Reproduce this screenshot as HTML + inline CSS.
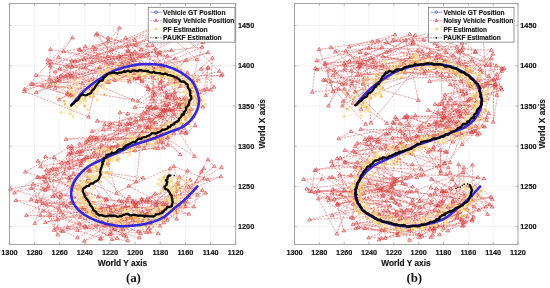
<!DOCTYPE html>
<html><head><meta charset="utf-8"><title>Figure</title><style>
*{margin:0;padding:0}
html,body{width:550px;height:288px;background:#fff;overflow:hidden}
svg{position:absolute;left:0;top:0;filter:blur(0.3px)}
.grid{stroke:#ebebeb;stroke-width:0.6}
.box{fill:none;stroke:#929292;stroke-width:0.85}
.tk{fill:none;stroke:#8c8c8c;stroke-width:0.6}
.tl{font:bold 7.3px 'Liberation Sans',Arial,sans-serif;fill:#111;stroke:#111;stroke-width:0.15}
.al{font:bold 8.3px 'Liberation Sans',Arial,sans-serif;fill:#111;stroke:#111;stroke-width:0.15}
.lt{font:bold 6.7px 'Liberation Sans',Arial,sans-serif;fill:#111;stroke:#111;stroke-width:0.12}
.lg{fill:#fff;stroke:#6a6a6a;stroke-width:0.7}
.rl{fill:none;stroke:#d84848;stroke-width:0.5;stroke-dasharray:2.2 1}
.rt{fill:#f0a0a0;fill-opacity:0.45;stroke:#d43c3c;stroke-width:0.6}
.yl{fill:none;stroke:#f3c76a;stroke-width:0.5;stroke-dasharray:1.2 1}
.yd{fill:none;stroke:#f9df98;stroke-width:3;stroke-linecap:round;stroke-opacity:0.9}
.yd2{fill:none;stroke:#f3b45c;stroke-width:2.6;stroke-linecap:round;stroke-opacity:0.9}
.gt{fill:none;stroke:#3428dc;stroke-width:2.6;stroke-linejoin:round;stroke-linecap:round}
.bk{fill:none;stroke:#080808;stroke-width:2.3;stroke-linejoin:round;stroke-linecap:round}
.bkr{stroke-width:2.35}
.bkd{fill:none;stroke:#111;stroke-width:1.6;stroke-linecap:round}
.cap{font:bold 13px 'Liberation Serif','Times New Roman',serif;fill:#111;letter-spacing:-0.15px}
</style></head>
<body>
<svg width="550" height="288" viewBox="0 0 550 288">
<line x1="34.5" y1="3.6" x2="34.5" y2="244.4" class="grid"/>
<line x1="59.7" y1="3.6" x2="59.7" y2="244.4" class="grid"/>
<line x1="84.8" y1="3.6" x2="84.8" y2="244.4" class="grid"/>
<line x1="110" y1="3.6" x2="110" y2="244.4" class="grid"/>
<line x1="135.1" y1="3.6" x2="135.1" y2="244.4" class="grid"/>
<line x1="160.3" y1="3.6" x2="160.3" y2="244.4" class="grid"/>
<line x1="185.4" y1="3.6" x2="185.4" y2="244.4" class="grid"/>
<line x1="210.6" y1="3.6" x2="210.6" y2="244.4" class="grid"/>
<line x1="9.4" y1="226.7" x2="235.7" y2="226.7" class="grid"/>
<line x1="9.4" y1="186.4" x2="235.7" y2="186.4" class="grid"/>
<line x1="9.4" y1="146.2" x2="235.7" y2="146.2" class="grid"/>
<line x1="9.4" y1="105.9" x2="235.7" y2="105.9" class="grid"/>
<line x1="9.4" y1="65.7" x2="235.7" y2="65.7" class="grid"/>
<line x1="9.4" y1="25.4" x2="235.7" y2="25.4" class="grid"/>
<polyline points="70,95.7 32.9,84 99.6,67.3 88.5,116.8 24.4,91.3 65.5,76 59,80 48,62.8 139.2,78.5 31.2,84.1 71,94.8 36,75.1 93.6,80.8 55.1,87.9 57.1,79.7 85.3,46.6 142.5,80 58.5,57.2 72.5,37.6 24.6,89.1 111.5,69.8 70.4,87.5 42.3,85.6 92.9,89.4 139.5,63.6 47.5,59.6 85.5,67.5 71.8,66.9 91.8,62.2 95.3,49.2 51.9,81.4 82.7,83.8 74.1,95 67.5,93.1 121.8,71.2 97.2,33.4 131.8,54.1 55.3,71.7 108.4,40.8 50.2,65.9 132.9,99.8 81.6,91.7 107.8,56.2 36.3,92.2 143.4,55.9 59.1,99.5 68,94.4 67.9,74.6 53.1,83.1 140.3,56 71.7,76.4 129.5,81.7 148,67.9 70.3,75.7 71.8,60.7 171.5,50.4 122,64 127.6,50.5 90.6,88.3 154.9,38.4 75.1,61.1 120.3,59 63.6,51.4 153.1,33.4 112.2,62.3 50.4,49.3 49.1,86.3 154.8,26.6 59.5,68.5 108,82.4 80.1,94.5 134.9,51.6 49.3,78.9 51.2,62.6 134.7,78.7 95.9,34.8 167.4,55.9 84.1,58.9 148.1,53.9 67.1,66.4 134.8,40.1 161.1,69.6 111.4,49.5 168.5,34.8 196.8,59.4 60.9,75.8 109.4,81.8 175.2,58.5 140.9,49.7 117.9,74.1 79,49.6 141.9,81.2 128.7,51.1 180.6,71.2 102.7,74.6 134.2,60.4 79.9,49.9 136,45 108,37.7 106.7,71.4 119.5,27.8 97.2,55.6 164,33.4 93.3,47 193.1,80.7 105.8,62.9 177,78.8 152.7,95.5 119.3,55.7 202.1,47 153,68.4 162.6,66.1 175.7,81.3 159.8,52.2 158.7,53.7 150.6,72.4 128.1,63.1 178.2,38.4 127.6,46.4 130.7,58.6 133.4,72.9 137.6,76.4 152.9,91.8 155.5,48.8 166.6,95.9 125.7,37.9 189.7,92.1 190.8,86.9 203.2,42.3 114.8,80.2 208.1,52.4 136.9,78.3 170.6,79.3 154.5,101.6 147.6,45.8 198.6,80.8 154.9,94.8 152.6,75.4 221.3,75.5 222.4,74.5 148,89.3 219.4,71.3 187.3,39.3 152.5,45.3 180,103.4 202.8,106.7 187.4,72.4 160.6,88.7 162.4,111.6 137.8,100.9 176.6,68.3 186.4,60.1 173,72.9 129,78.9 179.2,104.3 214,86.9 201.1,69 208.2,67.4 190.3,86.7 138.3,76.2 166.4,92.8 168.1,97.5 187.2,106.6 210.7,89.7 212.4,57.9 156.2,107 183.5,124.9 147.5,86.3 151,107.6 152.1,98.6 189.3,107.6 164.4,110.2 172.2,110.6 179.7,99.4 160,82.7 147.1,107 206.8,88.9 207.7,67.9 204.1,89.9 180.5,86.2 164.5,111.4 191.2,109.2 174.5,114.6 175,77.2 134.9,107.3 150.1,107.8 161.3,81.1 164.8,105 141,116.1 149.2,118.4 183.3,104.8 195.3,125.4 185.9,133.4 147.8,109.9 198.8,92.5 174.5,92.3 181.9,106.6 184.4,98.4 185.6,106.2 186.9,99.1 166.5,105.6 172.2,95.1 155.4,138.2 189.4,111.2 153.3,108.7 163.6,109.9 169.7,109.3 127,124.2 130.3,118.8 199.8,99.3 166.6,97.5 158.1,148.3 157.6,130 199.5,92 147.5,127.6 144.1,148 178.5,107.1 146.8,131.3 170.1,94.4 193.4,116.3 140.7,119.7 163.1,142.4 173.9,133 181.9,114.3 135.2,142.6 129.5,144.9 167.7,144.9 174.7,98.3 188,123.2 139.1,126.8 126,146.9 155.7,122.7 145.7,127.3 169.1,104 160.9,141.7 182.8,126.1 183.8,128 147.7,128.6 177.2,104.1 161.5,115.3 181.8,132.5 156.3,141.9 104.4,124.6 169.7,110 154.6,107.5 186.7,112.2 119.7,124.3 186.6,132 131.8,123.7 109.4,127.2 127.9,129.6 92.1,131.2 146.8,111.5 143.5,112.4 173.5,123.5 194.5,156.2 151.8,129.4 149.3,120.3 180.3,154.4 154.3,130.7 163.4,147.7 126.4,145.2 161.7,134.1 147.5,143 128.3,143.2 153.1,121.4 87.6,140.8 157.5,136.6 143.6,118.6 136.4,122 94,152.7 136.1,119.3 81.5,160.9 159.6,115.7 119.9,112.3 117.3,146 159.9,115.2 77.3,152.3 125.3,144.9 127.7,113.7 98,158.9 101.3,144.5 135.1,150.5 104.2,137.9 129.8,123.4 97.2,120.9 166.4,135.4 85.7,142.2 89.1,139.1 90.6,136.6 158,138.8 110.4,123.7 73.5,174 71.4,148.6 142.6,131.8 66,139.2 168.2,137.6 70.7,152.1 96.6,137.7 56.5,169.1 139.5,135.7 81.6,163.4 56.5,174.5 111.2,147.5 79.5,143.9 103.6,129.1 142.1,133.3 136.2,181.6 90,169.2 45.5,156.7 40.5,166.5 154.9,147.9 83.7,159.5 93.9,137.6 61.8,162.8 138.6,146.6 68,162.8 96.9,139.1 141.4,140.2 86.8,157.1 64.3,173.8 68.2,146.9 112.3,147.7 69.2,180.5 69,154 48,173.5 124.7,143.4 44.4,177.2 73.2,184.4 115,147.2 82.2,150.9 71.7,153.1 52.9,196.4 54.2,157.2 93.1,203 70.3,202.7 107.9,163.1 116.5,193.1 143,177.8 69.6,167.8 52.6,168.5 70.5,177.2 80.6,154.2 42.8,176.5 107.1,199.4 25.3,171.8 71.7,146.1 80.7,165.3 59.1,208.8 43,203.3 126.9,200.2 79.9,151.3 45.7,180.7 43,188.9 47.5,188.9 50.8,169.9 37.9,160.9 60.3,196.9 39.1,177.5 94.2,215.1 55.7,195.8 85,218.1 36.5,201.3 46.6,169.8 102.5,213.7 85.4,201.7 33,183.9 40.4,215.1 58,219.6 57.3,227.7 85,225.9 15.9,200.2 64.2,204.8 10.4,188.9 68.7,178 37.3,177.1 14.5,192.8 88.7,170.6 26.3,215.3 80.2,217.5 84.3,207.4 120.4,210.3 89.7,171 71.9,190 87.7,185 34.8,223.3 45.2,190 31.3,188.2 63.3,214.8 108.2,207 88.7,178.3 42.8,210.9 112.5,214 31.2,199.2 48.3,186.1 79.6,223.7 104.2,220.2 77.5,230.2 100.5,238.2 108.8,220.2 62.8,231.2 77.4,237.6 136,204.9 45.4,222.3 133,201 86.2,181.7 40,199.8 57.7,234.6 46.5,204.8 88.9,211.3 127.7,240.5 112.1,239.2 66.6,205.9 142.5,220.2 101.1,207.8 110,207.4 67.8,227.2 134.2,204.9 98,196.6 112,223.9 54,230 60.9,194.6 73.8,196.5 135,220.7 136,206.4 126.4,210.7 142.2,211.9 117.1,238 50,215 61.1,212.5 86.5,194 91.7,214.1 126.2,236.5 71.3,203.1 169.9,209.3 96,224.7 139.3,237.7 167.2,206.7 125.5,219.3 88.1,205.7 150.8,223.1 99.2,214.3 82.9,207.7 133.4,224.7 60.8,230.5 89.4,201.4 166.2,217.7 86.4,227.6 140.5,233.5 104.1,214.5 138.3,203 176.9,203.5 84.3,241 155.2,193.5 100.7,239 158.9,205 185.4,206.3 132.9,202.2 88.6,211.4 100.1,219.2 105.7,198.7 111.2,233.8 123.7,234.9 161,211.7 107.8,224.5 146.7,214.1 143.9,218.1 141.8,199.2 188.9,213.9 113.6,205.1 145.7,224.4 108.2,209.2 166.4,206 117.6,223 109.7,234.3 122.6,217.5 114,208.9 144.9,224.6 147.4,218.8 163,205.4 103.9,225.1 114.9,228.5 175.5,191.1 173.4,194.8 149.8,231.9 147.2,199.4 176.6,184 123,228.9 158.3,233.4 129,196.8 125.7,206.1 144.8,223.1 138.4,231.4 149,228.1 110.9,210.4 149.8,200.3 121.5,229 121.6,201.3 187.2,201.9 167.3,220.1 156.8,203.9 163.8,222.5 205.7,192.8 119,200.7 151.2,221.7 146.5,232.2 180.7,206 179.3,176.8 197.5,194.9 193.9,206.6 147.1,213.7 190.2,179.9 160,225.8 147.7,208.9 177.5,183 175.7,212.6 203.8,168.4 184.2,204.3 173.8,166.2 204.2,178.3 167,202.3 135.8,202.1 189.3,197.3 202.4,190.1 176.8,188.2 176.7,218.8 141.6,199.3 207.8,179.3 220.8,176.4 155.7,204.7 170.1,168.5 128.6,186 163.6,204.4 187.5,170.7 184.2,200.7 201.3,171.6 207.9,159.5 214.3,166.3 188.7,186.9 221.5,167.2" class="rl"/>
<path d="M70 93.8l1.9 3.2h-3.8zM32.9 82.1l1.9 3.2h-3.8zM99.6 65.4l1.9 3.2h-3.8zM88.5 114.9l1.9 3.2h-3.8zM24.4 89.4l1.9 3.2h-3.8zM65.5 74.1l1.9 3.2h-3.8zM59 78.1l1.9 3.2h-3.8zM48 60.9l1.9 3.2h-3.8zM139.2 76.6l1.9 3.2h-3.8zM31.2 82.2l1.9 3.2h-3.8zM71 92.9l1.9 3.2h-3.8zM36 73.2l1.9 3.2h-3.8zM93.6 78.9l1.9 3.2h-3.8zM55.1 86l1.9 3.2h-3.8zM57.1 77.8l1.9 3.2h-3.8zM85.3 44.7l1.9 3.2h-3.8zM142.5 78.1l1.9 3.2h-3.8zM58.5 55.3l1.9 3.2h-3.8zM72.5 35.7l1.9 3.2h-3.8zM24.6 87.2l1.9 3.2h-3.8zM111.5 67.9l1.9 3.2h-3.8zM70.4 85.6l1.9 3.2h-3.8zM42.3 83.7l1.9 3.2h-3.8zM92.9 87.5l1.9 3.2h-3.8zM139.5 61.7l1.9 3.2h-3.8zM47.5 57.7l1.9 3.2h-3.8zM85.5 65.6l1.9 3.2h-3.8zM71.8 65l1.9 3.2h-3.8zM91.8 60.3l1.9 3.2h-3.8zM95.3 47.3l1.9 3.2h-3.8zM51.9 79.5l1.9 3.2h-3.8zM82.7 81.9l1.9 3.2h-3.8zM74.1 93.1l1.9 3.2h-3.8zM67.5 91.2l1.9 3.2h-3.8zM121.8 69.3l1.9 3.2h-3.8zM97.2 31.5l1.9 3.2h-3.8zM131.8 52.2l1.9 3.2h-3.8zM55.3 69.8l1.9 3.2h-3.8zM108.4 38.9l1.9 3.2h-3.8zM50.2 64l1.9 3.2h-3.8zM132.9 97.9l1.9 3.2h-3.8zM81.6 89.8l1.9 3.2h-3.8zM107.8 54.3l1.9 3.2h-3.8zM36.3 90.3l1.9 3.2h-3.8zM143.4 54l1.9 3.2h-3.8zM59.1 97.6l1.9 3.2h-3.8zM68 92.5l1.9 3.2h-3.8zM67.9 72.7l1.9 3.2h-3.8zM53.1 81.2l1.9 3.2h-3.8zM140.3 54.1l1.9 3.2h-3.8zM71.7 74.5l1.9 3.2h-3.8zM129.5 79.8l1.9 3.2h-3.8zM148 66l1.9 3.2h-3.8zM70.3 73.8l1.9 3.2h-3.8zM71.8 58.8l1.9 3.2h-3.8zM171.5 48.5l1.9 3.2h-3.8zM122 62.1l1.9 3.2h-3.8zM127.6 48.6l1.9 3.2h-3.8zM90.6 86.4l1.9 3.2h-3.8zM154.9 36.5l1.9 3.2h-3.8zM75.1 59.2l1.9 3.2h-3.8zM120.3 57.1l1.9 3.2h-3.8zM63.6 49.5l1.9 3.2h-3.8zM153.1 31.5l1.9 3.2h-3.8zM112.2 60.4l1.9 3.2h-3.8zM50.4 47.4l1.9 3.2h-3.8zM49.1 84.4l1.9 3.2h-3.8zM154.8 24.7l1.9 3.2h-3.8zM59.5 66.6l1.9 3.2h-3.8zM108 80.5l1.9 3.2h-3.8zM80.1 92.6l1.9 3.2h-3.8zM134.9 49.7l1.9 3.2h-3.8zM49.3 77l1.9 3.2h-3.8zM51.2 60.7l1.9 3.2h-3.8zM134.7 76.8l1.9 3.2h-3.8zM95.9 32.9l1.9 3.2h-3.8zM167.4 54l1.9 3.2h-3.8zM84.1 57l1.9 3.2h-3.8zM148.1 52l1.9 3.2h-3.8zM67.1 64.5l1.9 3.2h-3.8zM134.8 38.2l1.9 3.2h-3.8zM161.1 67.7l1.9 3.2h-3.8zM111.4 47.6l1.9 3.2h-3.8zM168.5 32.9l1.9 3.2h-3.8zM196.8 57.5l1.9 3.2h-3.8zM60.9 73.9l1.9 3.2h-3.8zM109.4 79.9l1.9 3.2h-3.8zM175.2 56.6l1.9 3.2h-3.8zM140.9 47.8l1.9 3.2h-3.8zM117.9 72.2l1.9 3.2h-3.8zM79 47.7l1.9 3.2h-3.8zM141.9 79.3l1.9 3.2h-3.8zM128.7 49.2l1.9 3.2h-3.8zM180.6 69.3l1.9 3.2h-3.8zM102.7 72.7l1.9 3.2h-3.8zM134.2 58.5l1.9 3.2h-3.8zM79.9 48l1.9 3.2h-3.8zM136 43.1l1.9 3.2h-3.8zM108 35.8l1.9 3.2h-3.8zM106.7 69.5l1.9 3.2h-3.8zM119.5 25.9l1.9 3.2h-3.8zM97.2 53.7l1.9 3.2h-3.8zM164 31.5l1.9 3.2h-3.8zM93.3 45.1l1.9 3.2h-3.8zM193.1 78.8l1.9 3.2h-3.8zM105.8 61l1.9 3.2h-3.8zM177 76.9l1.9 3.2h-3.8zM152.7 93.6l1.9 3.2h-3.8zM119.3 53.8l1.9 3.2h-3.8zM202.1 45.1l1.9 3.2h-3.8zM153 66.5l1.9 3.2h-3.8zM162.6 64.2l1.9 3.2h-3.8zM175.7 79.4l1.9 3.2h-3.8zM159.8 50.3l1.9 3.2h-3.8zM158.7 51.8l1.9 3.2h-3.8zM150.6 70.5l1.9 3.2h-3.8zM128.1 61.2l1.9 3.2h-3.8zM178.2 36.5l1.9 3.2h-3.8zM127.6 44.5l1.9 3.2h-3.8zM130.7 56.7l1.9 3.2h-3.8zM133.4 71l1.9 3.2h-3.8zM137.6 74.5l1.9 3.2h-3.8zM152.9 89.9l1.9 3.2h-3.8zM155.5 46.9l1.9 3.2h-3.8zM166.6 94l1.9 3.2h-3.8zM125.7 36l1.9 3.2h-3.8zM189.7 90.2l1.9 3.2h-3.8zM190.8 85l1.9 3.2h-3.8zM203.2 40.4l1.9 3.2h-3.8zM114.8 78.3l1.9 3.2h-3.8zM208.1 50.5l1.9 3.2h-3.8zM136.9 76.4l1.9 3.2h-3.8zM170.6 77.4l1.9 3.2h-3.8zM154.5 99.7l1.9 3.2h-3.8zM147.6 43.9l1.9 3.2h-3.8zM198.6 78.9l1.9 3.2h-3.8zM154.9 92.9l1.9 3.2h-3.8zM152.6 73.5l1.9 3.2h-3.8zM221.3 73.6l1.9 3.2h-3.8zM222.4 72.6l1.9 3.2h-3.8zM148 87.4l1.9 3.2h-3.8zM219.4 69.4l1.9 3.2h-3.8zM187.3 37.4l1.9 3.2h-3.8zM152.5 43.4l1.9 3.2h-3.8zM180 101.5l1.9 3.2h-3.8zM202.8 104.8l1.9 3.2h-3.8zM187.4 70.5l1.9 3.2h-3.8zM160.6 86.8l1.9 3.2h-3.8zM162.4 109.7l1.9 3.2h-3.8zM137.8 99l1.9 3.2h-3.8zM176.6 66.4l1.9 3.2h-3.8zM186.4 58.2l1.9 3.2h-3.8zM173 71l1.9 3.2h-3.8zM129 77l1.9 3.2h-3.8zM179.2 102.4l1.9 3.2h-3.8zM214 85l1.9 3.2h-3.8zM201.1 67.1l1.9 3.2h-3.8zM208.2 65.5l1.9 3.2h-3.8zM190.3 84.8l1.9 3.2h-3.8zM138.3 74.3l1.9 3.2h-3.8zM166.4 90.9l1.9 3.2h-3.8zM168.1 95.6l1.9 3.2h-3.8zM187.2 104.7l1.9 3.2h-3.8zM210.7 87.8l1.9 3.2h-3.8zM212.4 56l1.9 3.2h-3.8zM156.2 105.1l1.9 3.2h-3.8zM183.5 123l1.9 3.2h-3.8zM147.5 84.4l1.9 3.2h-3.8zM151 105.7l1.9 3.2h-3.8zM152.1 96.7l1.9 3.2h-3.8zM189.3 105.7l1.9 3.2h-3.8zM164.4 108.3l1.9 3.2h-3.8zM172.2 108.7l1.9 3.2h-3.8zM179.7 97.5l1.9 3.2h-3.8zM160 80.8l1.9 3.2h-3.8zM147.1 105.1l1.9 3.2h-3.8zM206.8 87l1.9 3.2h-3.8zM207.7 66l1.9 3.2h-3.8zM204.1 88l1.9 3.2h-3.8zM180.5 84.3l1.9 3.2h-3.8zM164.5 109.5l1.9 3.2h-3.8zM191.2 107.3l1.9 3.2h-3.8zM174.5 112.7l1.9 3.2h-3.8zM175 75.3l1.9 3.2h-3.8zM134.9 105.4l1.9 3.2h-3.8zM150.1 105.9l1.9 3.2h-3.8zM161.3 79.2l1.9 3.2h-3.8zM164.8 103.1l1.9 3.2h-3.8zM141 114.2l1.9 3.2h-3.8zM149.2 116.5l1.9 3.2h-3.8zM183.3 102.9l1.9 3.2h-3.8zM195.3 123.5l1.9 3.2h-3.8zM185.9 131.5l1.9 3.2h-3.8zM147.8 108l1.9 3.2h-3.8zM198.8 90.6l1.9 3.2h-3.8zM174.5 90.4l1.9 3.2h-3.8zM181.9 104.7l1.9 3.2h-3.8zM184.4 96.5l1.9 3.2h-3.8zM185.6 104.3l1.9 3.2h-3.8zM186.9 97.2l1.9 3.2h-3.8zM166.5 103.7l1.9 3.2h-3.8zM172.2 93.2l1.9 3.2h-3.8zM155.4 136.3l1.9 3.2h-3.8zM189.4 109.3l1.9 3.2h-3.8zM153.3 106.8l1.9 3.2h-3.8zM163.6 108l1.9 3.2h-3.8zM169.7 107.4l1.9 3.2h-3.8zM127 122.3l1.9 3.2h-3.8zM130.3 116.9l1.9 3.2h-3.8zM199.8 97.4l1.9 3.2h-3.8zM166.6 95.6l1.9 3.2h-3.8zM158.1 146.4l1.9 3.2h-3.8zM157.6 128.1l1.9 3.2h-3.8zM199.5 90.1l1.9 3.2h-3.8zM147.5 125.7l1.9 3.2h-3.8zM144.1 146.1l1.9 3.2h-3.8zM178.5 105.2l1.9 3.2h-3.8zM146.8 129.4l1.9 3.2h-3.8zM170.1 92.5l1.9 3.2h-3.8zM193.4 114.4l1.9 3.2h-3.8zM140.7 117.8l1.9 3.2h-3.8zM163.1 140.5l1.9 3.2h-3.8zM173.9 131.1l1.9 3.2h-3.8zM181.9 112.4l1.9 3.2h-3.8zM135.2 140.7l1.9 3.2h-3.8zM129.5 143l1.9 3.2h-3.8zM167.7 143l1.9 3.2h-3.8zM174.7 96.4l1.9 3.2h-3.8zM188 121.3l1.9 3.2h-3.8zM139.1 124.9l1.9 3.2h-3.8zM126 145l1.9 3.2h-3.8zM155.7 120.8l1.9 3.2h-3.8zM145.7 125.4l1.9 3.2h-3.8zM169.1 102.1l1.9 3.2h-3.8zM160.9 139.8l1.9 3.2h-3.8zM182.8 124.2l1.9 3.2h-3.8zM183.8 126.1l1.9 3.2h-3.8zM147.7 126.7l1.9 3.2h-3.8zM177.2 102.2l1.9 3.2h-3.8zM161.5 113.4l1.9 3.2h-3.8zM181.8 130.6l1.9 3.2h-3.8zM156.3 140l1.9 3.2h-3.8zM104.4 122.7l1.9 3.2h-3.8zM169.7 108.1l1.9 3.2h-3.8zM154.6 105.6l1.9 3.2h-3.8zM186.7 110.3l1.9 3.2h-3.8zM119.7 122.4l1.9 3.2h-3.8zM186.6 130.1l1.9 3.2h-3.8zM131.8 121.8l1.9 3.2h-3.8zM109.4 125.3l1.9 3.2h-3.8zM127.9 127.7l1.9 3.2h-3.8zM92.1 129.3l1.9 3.2h-3.8zM146.8 109.6l1.9 3.2h-3.8zM143.5 110.5l1.9 3.2h-3.8zM173.5 121.6l1.9 3.2h-3.8zM194.5 154.3l1.9 3.2h-3.8zM151.8 127.5l1.9 3.2h-3.8zM149.3 118.4l1.9 3.2h-3.8zM180.3 152.5l1.9 3.2h-3.8zM154.3 128.8l1.9 3.2h-3.8zM163.4 145.8l1.9 3.2h-3.8zM126.4 143.3l1.9 3.2h-3.8zM161.7 132.2l1.9 3.2h-3.8zM147.5 141.1l1.9 3.2h-3.8zM128.3 141.3l1.9 3.2h-3.8zM153.1 119.5l1.9 3.2h-3.8zM87.6 138.9l1.9 3.2h-3.8zM157.5 134.7l1.9 3.2h-3.8zM143.6 116.7l1.9 3.2h-3.8zM136.4 120.1l1.9 3.2h-3.8zM94 150.8l1.9 3.2h-3.8zM136.1 117.4l1.9 3.2h-3.8zM81.5 159l1.9 3.2h-3.8zM159.6 113.8l1.9 3.2h-3.8zM119.9 110.4l1.9 3.2h-3.8zM117.3 144.1l1.9 3.2h-3.8zM159.9 113.3l1.9 3.2h-3.8zM77.3 150.4l1.9 3.2h-3.8zM125.3 143l1.9 3.2h-3.8zM127.7 111.8l1.9 3.2h-3.8zM98 157l1.9 3.2h-3.8zM101.3 142.6l1.9 3.2h-3.8zM135.1 148.6l1.9 3.2h-3.8zM104.2 136l1.9 3.2h-3.8zM129.8 121.5l1.9 3.2h-3.8zM97.2 119l1.9 3.2h-3.8zM166.4 133.5l1.9 3.2h-3.8zM85.7 140.3l1.9 3.2h-3.8zM89.1 137.2l1.9 3.2h-3.8zM90.6 134.7l1.9 3.2h-3.8zM158 136.9l1.9 3.2h-3.8zM110.4 121.8l1.9 3.2h-3.8zM73.5 172.1l1.9 3.2h-3.8zM71.4 146.7l1.9 3.2h-3.8zM142.6 129.9l1.9 3.2h-3.8zM66 137.3l1.9 3.2h-3.8zM168.2 135.7l1.9 3.2h-3.8zM70.7 150.2l1.9 3.2h-3.8zM96.6 135.8l1.9 3.2h-3.8zM56.5 167.2l1.9 3.2h-3.8zM139.5 133.8l1.9 3.2h-3.8zM81.6 161.5l1.9 3.2h-3.8zM56.5 172.6l1.9 3.2h-3.8zM111.2 145.6l1.9 3.2h-3.8zM79.5 142l1.9 3.2h-3.8zM103.6 127.2l1.9 3.2h-3.8zM142.1 131.4l1.9 3.2h-3.8zM136.2 179.7l1.9 3.2h-3.8zM90 167.3l1.9 3.2h-3.8zM45.5 154.8l1.9 3.2h-3.8zM40.5 164.6l1.9 3.2h-3.8zM154.9 146l1.9 3.2h-3.8zM83.7 157.6l1.9 3.2h-3.8zM93.9 135.7l1.9 3.2h-3.8zM61.8 160.9l1.9 3.2h-3.8zM138.6 144.7l1.9 3.2h-3.8zM68 160.9l1.9 3.2h-3.8zM96.9 137.2l1.9 3.2h-3.8zM141.4 138.3l1.9 3.2h-3.8zM86.8 155.2l1.9 3.2h-3.8zM64.3 171.9l1.9 3.2h-3.8zM68.2 145l1.9 3.2h-3.8zM112.3 145.8l1.9 3.2h-3.8zM69.2 178.6l1.9 3.2h-3.8zM69 152.1l1.9 3.2h-3.8zM48 171.6l1.9 3.2h-3.8zM124.7 141.5l1.9 3.2h-3.8zM44.4 175.3l1.9 3.2h-3.8zM73.2 182.5l1.9 3.2h-3.8zM115 145.3l1.9 3.2h-3.8zM82.2 149l1.9 3.2h-3.8zM71.7 151.2l1.9 3.2h-3.8zM52.9 194.5l1.9 3.2h-3.8zM54.2 155.3l1.9 3.2h-3.8zM93.1 201.1l1.9 3.2h-3.8zM70.3 200.8l1.9 3.2h-3.8zM107.9 161.2l1.9 3.2h-3.8zM116.5 191.2l1.9 3.2h-3.8zM143 175.9l1.9 3.2h-3.8zM69.6 165.9l1.9 3.2h-3.8zM52.6 166.6l1.9 3.2h-3.8zM70.5 175.3l1.9 3.2h-3.8zM80.6 152.3l1.9 3.2h-3.8zM42.8 174.6l1.9 3.2h-3.8zM107.1 197.5l1.9 3.2h-3.8zM25.3 169.9l1.9 3.2h-3.8zM71.7 144.2l1.9 3.2h-3.8zM80.7 163.4l1.9 3.2h-3.8zM59.1 206.9l1.9 3.2h-3.8zM43 201.4l1.9 3.2h-3.8zM126.9 198.3l1.9 3.2h-3.8zM79.9 149.4l1.9 3.2h-3.8zM45.7 178.8l1.9 3.2h-3.8zM43 187l1.9 3.2h-3.8zM47.5 187l1.9 3.2h-3.8zM50.8 168l1.9 3.2h-3.8zM37.9 159l1.9 3.2h-3.8zM60.3 195l1.9 3.2h-3.8zM39.1 175.6l1.9 3.2h-3.8zM94.2 213.2l1.9 3.2h-3.8zM55.7 193.9l1.9 3.2h-3.8zM85 216.2l1.9 3.2h-3.8zM36.5 199.4l1.9 3.2h-3.8zM46.6 167.9l1.9 3.2h-3.8zM102.5 211.8l1.9 3.2h-3.8zM85.4 199.8l1.9 3.2h-3.8zM33 182l1.9 3.2h-3.8zM40.4 213.2l1.9 3.2h-3.8zM58 217.7l1.9 3.2h-3.8zM57.3 225.8l1.9 3.2h-3.8zM85 224l1.9 3.2h-3.8zM15.9 198.3l1.9 3.2h-3.8zM64.2 202.9l1.9 3.2h-3.8zM10.4 187l1.9 3.2h-3.8zM68.7 176.1l1.9 3.2h-3.8zM37.3 175.2l1.9 3.2h-3.8zM14.5 190.9l1.9 3.2h-3.8zM88.7 168.7l1.9 3.2h-3.8zM26.3 213.4l1.9 3.2h-3.8zM80.2 215.6l1.9 3.2h-3.8zM84.3 205.5l1.9 3.2h-3.8zM120.4 208.4l1.9 3.2h-3.8zM89.7 169.1l1.9 3.2h-3.8zM71.9 188.1l1.9 3.2h-3.8zM87.7 183.1l1.9 3.2h-3.8zM34.8 221.4l1.9 3.2h-3.8zM45.2 188.1l1.9 3.2h-3.8zM31.3 186.3l1.9 3.2h-3.8zM63.3 212.9l1.9 3.2h-3.8zM108.2 205.1l1.9 3.2h-3.8zM88.7 176.4l1.9 3.2h-3.8zM42.8 209l1.9 3.2h-3.8zM112.5 212.1l1.9 3.2h-3.8zM31.2 197.3l1.9 3.2h-3.8zM48.3 184.2l1.9 3.2h-3.8zM79.6 221.8l1.9 3.2h-3.8zM104.2 218.3l1.9 3.2h-3.8zM77.5 228.3l1.9 3.2h-3.8zM100.5 236.3l1.9 3.2h-3.8zM108.8 218.3l1.9 3.2h-3.8zM62.8 229.3l1.9 3.2h-3.8zM77.4 235.7l1.9 3.2h-3.8zM136 203l1.9 3.2h-3.8zM45.4 220.4l1.9 3.2h-3.8zM133 199.1l1.9 3.2h-3.8zM86.2 179.8l1.9 3.2h-3.8zM40 197.9l1.9 3.2h-3.8zM57.7 232.7l1.9 3.2h-3.8zM46.5 202.9l1.9 3.2h-3.8zM88.9 209.4l1.9 3.2h-3.8zM127.7 238.6l1.9 3.2h-3.8zM112.1 237.3l1.9 3.2h-3.8zM66.6 204l1.9 3.2h-3.8zM142.5 218.3l1.9 3.2h-3.8zM101.1 205.9l1.9 3.2h-3.8zM110 205.5l1.9 3.2h-3.8zM67.8 225.3l1.9 3.2h-3.8zM134.2 203l1.9 3.2h-3.8zM98 194.7l1.9 3.2h-3.8zM112 222l1.9 3.2h-3.8zM54 228.1l1.9 3.2h-3.8zM60.9 192.7l1.9 3.2h-3.8zM73.8 194.6l1.9 3.2h-3.8zM135 218.8l1.9 3.2h-3.8zM136 204.5l1.9 3.2h-3.8zM126.4 208.8l1.9 3.2h-3.8zM142.2 210l1.9 3.2h-3.8zM117.1 236.1l1.9 3.2h-3.8zM50 213.1l1.9 3.2h-3.8zM61.1 210.6l1.9 3.2h-3.8zM86.5 192.1l1.9 3.2h-3.8zM91.7 212.2l1.9 3.2h-3.8zM126.2 234.6l1.9 3.2h-3.8zM71.3 201.2l1.9 3.2h-3.8zM169.9 207.4l1.9 3.2h-3.8zM96 222.8l1.9 3.2h-3.8zM139.3 235.8l1.9 3.2h-3.8zM167.2 204.8l1.9 3.2h-3.8zM125.5 217.4l1.9 3.2h-3.8zM88.1 203.8l1.9 3.2h-3.8zM150.8 221.2l1.9 3.2h-3.8zM99.2 212.4l1.9 3.2h-3.8zM82.9 205.8l1.9 3.2h-3.8zM133.4 222.8l1.9 3.2h-3.8zM60.8 228.6l1.9 3.2h-3.8zM89.4 199.5l1.9 3.2h-3.8zM166.2 215.8l1.9 3.2h-3.8zM86.4 225.7l1.9 3.2h-3.8zM140.5 231.6l1.9 3.2h-3.8zM104.1 212.6l1.9 3.2h-3.8zM138.3 201.1l1.9 3.2h-3.8zM176.9 201.6l1.9 3.2h-3.8zM84.3 239.1l1.9 3.2h-3.8zM155.2 191.6l1.9 3.2h-3.8zM100.7 237.1l1.9 3.2h-3.8zM158.9 203.1l1.9 3.2h-3.8zM185.4 204.4l1.9 3.2h-3.8zM132.9 200.3l1.9 3.2h-3.8zM88.6 209.5l1.9 3.2h-3.8zM100.1 217.3l1.9 3.2h-3.8zM105.7 196.8l1.9 3.2h-3.8zM111.2 231.9l1.9 3.2h-3.8zM123.7 233l1.9 3.2h-3.8zM161 209.8l1.9 3.2h-3.8zM107.8 222.6l1.9 3.2h-3.8zM146.7 212.2l1.9 3.2h-3.8zM143.9 216.2l1.9 3.2h-3.8zM141.8 197.3l1.9 3.2h-3.8zM188.9 212l1.9 3.2h-3.8zM113.6 203.2l1.9 3.2h-3.8zM145.7 222.5l1.9 3.2h-3.8zM108.2 207.3l1.9 3.2h-3.8zM166.4 204.1l1.9 3.2h-3.8zM117.6 221.1l1.9 3.2h-3.8zM109.7 232.4l1.9 3.2h-3.8zM122.6 215.6l1.9 3.2h-3.8zM114 207l1.9 3.2h-3.8zM144.9 222.7l1.9 3.2h-3.8zM147.4 216.9l1.9 3.2h-3.8zM163 203.5l1.9 3.2h-3.8zM103.9 223.2l1.9 3.2h-3.8zM114.9 226.6l1.9 3.2h-3.8zM175.5 189.2l1.9 3.2h-3.8zM173.4 192.9l1.9 3.2h-3.8zM149.8 230l1.9 3.2h-3.8zM147.2 197.5l1.9 3.2h-3.8zM176.6 182.1l1.9 3.2h-3.8zM123 227l1.9 3.2h-3.8zM158.3 231.5l1.9 3.2h-3.8zM129 194.9l1.9 3.2h-3.8zM125.7 204.2l1.9 3.2h-3.8zM144.8 221.2l1.9 3.2h-3.8zM138.4 229.5l1.9 3.2h-3.8zM149 226.2l1.9 3.2h-3.8zM110.9 208.5l1.9 3.2h-3.8zM149.8 198.4l1.9 3.2h-3.8zM121.5 227.1l1.9 3.2h-3.8zM121.6 199.4l1.9 3.2h-3.8zM187.2 200l1.9 3.2h-3.8zM167.3 218.2l1.9 3.2h-3.8zM156.8 202l1.9 3.2h-3.8zM163.8 220.6l1.9 3.2h-3.8zM205.7 190.9l1.9 3.2h-3.8zM119 198.8l1.9 3.2h-3.8zM151.2 219.8l1.9 3.2h-3.8zM146.5 230.3l1.9 3.2h-3.8zM180.7 204.1l1.9 3.2h-3.8zM179.3 174.9l1.9 3.2h-3.8zM197.5 193l1.9 3.2h-3.8zM193.9 204.7l1.9 3.2h-3.8zM147.1 211.8l1.9 3.2h-3.8zM190.2 178l1.9 3.2h-3.8zM160 223.9l1.9 3.2h-3.8zM147.7 207l1.9 3.2h-3.8zM177.5 181.1l1.9 3.2h-3.8zM175.7 210.7l1.9 3.2h-3.8zM203.8 166.5l1.9 3.2h-3.8zM184.2 202.4l1.9 3.2h-3.8zM173.8 164.3l1.9 3.2h-3.8zM204.2 176.4l1.9 3.2h-3.8zM167 200.4l1.9 3.2h-3.8zM135.8 200.2l1.9 3.2h-3.8zM189.3 195.4l1.9 3.2h-3.8zM202.4 188.2l1.9 3.2h-3.8zM176.8 186.3l1.9 3.2h-3.8zM176.7 216.9l1.9 3.2h-3.8zM141.6 197.4l1.9 3.2h-3.8zM207.8 177.4l1.9 3.2h-3.8zM220.8 174.5l1.9 3.2h-3.8zM155.7 202.8l1.9 3.2h-3.8zM170.1 166.6l1.9 3.2h-3.8zM128.6 184.1l1.9 3.2h-3.8zM163.6 202.5l1.9 3.2h-3.8zM187.5 168.8l1.9 3.2h-3.8zM184.2 198.8l1.9 3.2h-3.8zM201.3 169.7l1.9 3.2h-3.8zM207.9 157.6l1.9 3.2h-3.8zM214.3 164.4l1.9 3.2h-3.8zM188.7 185l1.9 3.2h-3.8zM221.5 165.3l1.9 3.2h-3.8z" class="rt"/>
<polyline points="57,97 65,104.3 74.5,80 79.7,101.3 61.2,112.4 69.7,113.8 80.2,99.7 87.4,109.5 69.3,87.1 69.1,106.9 72.9,116.7 79.2,102.5 81.1,92.6 75.8,94.2 53,84.1 85.7,95.5 77,86.3 73.2,104.9 80.1,93.6 93.7,96.5 76.8,106.2 64.2,101.1 70.7,90.4 75,96.9 81.8,97.3 84.6,106 97.4,100 89.1,91.5 73.5,98.1 83.8,99.7 70.3,113.7 73.6,93 95.2,86.2 80.4,78.6 76.4,82 87.3,94.1 85.6,101.3 97.7,91.3 88.9,92.9 84.8,98.3 91.4,89.7 89.1,95.1 87.8,92.5 89.9,96.7 98.5,81.3 92.2,95.6 88.2,91.8 93.3,89.7 93.7,91.7 97.5,82.2 88.7,83.2 103.8,88.3 97.5,89.1 91.8,82.3 99,82.1 103.8,85.8 96.4,83.9 96,84.6 104.6,94.6 91.3,83.1 101.2,80.7 95.2,81 87.6,85.6 98.8,81.4 99.8,81.9 110.7,81.5 104.3,78.2 102.6,79.3 100.8,77.1 98.2,82.6 105.8,80.2 99.7,80.1 91.5,82.3 103.3,80.1 109.2,76.7 108.7,76 107.1,75.8 106.7,81.9 102.1,74.4 103.8,77.4 119,73.1 98.4,71.7 100.2,72.2 108.5,70 106,66.1 110.2,70.2 113.4,77.6 106.4,71.3 111,75.6 103.8,72.2 121.3,71.5 113.1,72.8 107.7,75.9 113.2,74.6 117,75.9 104.2,76.2 111.3,74.6 112.7,69.1 122.9,70.1 117,69.9 119.8,70.3 106.4,70.1 119.5,73 125.2,69.2 130,71.2 123.2,69.5 117.3,78.4 122.1,69.9 129.7,75.9 117.5,69.2 121.2,80.4 135.5,71 128.1,72.8 133.2,67.3 133,65.3 115.7,64.2 127.8,74.1 118.1,63.2 126.4,59.5 128.4,77.4 115.8,73.6 131,74.5 130.3,71.2 135.8,70.9 131.4,72 123.4,74.5 131.6,78.9 137.9,66.8 131.5,73.3 132,69.3 144.6,76.1 131.6,68.4 146.1,64.3 151,69.5 142.7,65.3 136.3,76 143.1,67.2 154.7,70.9 138,69 145,72.3 140.5,69.1 139.8,74.5 139.7,75.3 148,67.3 147.6,74.1 138.2,74.1 160.6,70.4 144,68.6 150.1,67.9 150.8,70.8 149.7,71.2 152.5,64.5 153.7,65.2 156.4,68.5 149.2,73.8 150.2,72.7 142.1,78 149,72.9 156.5,70.5 157.3,69.1 159.6,70.1 161.3,70.3 166.5,68.9 156.2,72.8 162.2,77.2 147.1,74.4 157.1,75 161.9,73.9 163.1,75.9 156.4,68.8 152.9,74.4 160.6,71.2 163.3,71.9 165.7,75.8 173.1,71.1 162.6,76.7 170.5,74.1 167.7,71.9 159.7,69.3 157.6,78.6 166.8,74.2 158.6,73.4 167.2,70.3 175.9,67 171.2,84.4 163.8,74.5 168.6,73.8 160.8,77.2 174.3,67.3 157.6,69.4 170.2,78.6 175.6,70.7 176.8,75.9 166.9,78.1 179,66.6 178.9,70 171.3,81.1 164.4,69.5 171.8,72.8 173.8,75.1 173.9,75.6 180,74.6 184.2,78.3 175.5,85.4 170.2,81 181.9,80.9 180.5,82 194.8,77.2 199.5,82 175.4,74.1 188.7,85.6 178.8,82.6 186.8,80.6 185.2,81.9 181.4,79.7 177.5,84.3 171.5,77.5 185.7,81.5 190.4,84.4 185.5,80.7 182.7,86.5 171.3,75.2 197.9,89.5 190.5,86.5 188.1,88.5 188.3,83.6 183.2,84.8 191.1,85 195.7,84.1 194.6,87.3 183.7,91.6 187.7,83.7 188,83.4 194.9,93.3 192,83.7 195.2,100.1 186.5,93.8 196.4,84.9 201.3,97 191.6,96.9 198.1,95.5 192.8,91.3 197.1,87.7 198.9,91.9 192.1,95.1 196.6,98 194.7,90.9 186.8,100.1 188.3,93.6 206,104.2 203.9,100.3 197.5,103.7 198.9,100.9 187,98.1 182.7,106 190.7,100.9 197.2,103.4 195.7,100.5 184.5,109.8 188.5,101.8 185.8,101.4 189,106.8 182.9,105.3 186.7,110 189.4,107.8 190.1,100.4 186.8,106.7 182.9,106 194.3,109.1 182.4,106.6 195.2,115 189.2,111.7 194.2,103.8 178.7,101.3 196.4,103.3 181.6,113.3 185.9,110.6 189.2,116.1 179.1,114.2 188.4,113.9 190.3,119.5 189,114.8 178.7,116.5 185.6,118.3 185.6,120.3 185.1,117.4 184.6,118.3 186.3,118.4 184.4,124.8 189.8,114.7 177.3,121.4 178.4,119.9 175.3,123.7 183.6,115.2 185.3,119.7 179.4,124 181.3,123.1 190.5,126.5 186.8,120.7 169.7,126.4 179.5,123.2 180.3,124 186.9,121.8 172.2,123.7 180.8,119.9 169.3,122.3 176.9,122 175.4,122.3 170.2,124.3 171.2,124.4 173.6,125.3 165.1,124.8 171.8,129.5 169,130.4 173.8,128.8 173.6,124.2 166.5,127.4 177.6,126.8 167.2,126.5 167.6,132.6 167.2,127.9 164.5,128.2 165.1,128.1 169.2,130.3 162.3,125.4 165.1,127.8 170.1,135.9 165.5,136.6 160.3,129.3 158.3,132.2 159,131.3 166.1,131 154.6,131.2 163.9,132.9 165.4,131.9 161.5,139.7 166.7,133 152.3,130.5 159.8,136.2 166.2,131.6 154.1,130.9 158.6,132.9 148.9,137 152.5,137.6 153.4,135.7 159.5,128.6 147.5,137.6 153,127.8 147.7,130.6 149,140.9 149.6,143.7 151.2,134 157.9,140 155.8,143.5 155.3,142 141.5,134.2 147.9,136.3 150.8,135.5 153.4,146.2 148,140.1 148.5,141.7 145.9,136 145.8,139 138.4,140.7 142.5,138.6 140,140.4 143.3,134.7 144.7,144 144.2,135.8 136,140.1 135.3,149.5 135,136.3 142.2,139.4 127.6,140.3 133.7,140 129.4,137.3 135.6,141 131.3,140.2 131.5,143 133.9,137.4 136.8,139.3 135.4,140.1 134,141.7 132.3,143.7 133.7,144.2 132,139.9 130.3,136.5 119.9,142 128.5,149.7 131.9,149.8 127,147.5 133.5,146.1 129.2,145.3 123,141.9 119.7,148.8 125.2,142.4 126.9,145.4 129.6,154.7 126.3,145.6 117.8,153.9 125.7,143.2 127.9,141.9 120.3,148 120.7,143.9 132.2,147.8 122.5,149.7 112.3,148.7 121.5,152.5 116.6,153 118.2,151.5 108,151.7 114.8,148.8 103.1,148.4 118.5,161.2 111.7,150.5 118.3,152.5 111.8,152.2 114.3,153.4 116.9,160.1 116.8,156.3 114.2,156.4 109.2,160.5 113.1,159.2 105.9,159.4 111,154.9 107.9,150.5 118.9,158.5 111.7,154 105.4,148.2 101,152.2 107.4,150.8 110.6,157.9 108.5,148.6 103.1,157.8 97.5,150.2 112.4,160.5 101.8,164.3 111.7,158.4 106.5,160.6 111.4,158.7 104.4,160.7 88.6,160.7 104.1,159.4 104.4,161.6 99.2,162.3 99.5,164 96.8,166.5 89.8,164.1 107.4,158.6 97.1,169.2 103.9,161.3 87.4,166.5 94.5,167.8 108,166.1 103.8,164.4 96.3,166.9 99.4,169.6 89.1,165.8 104.5,165.2 109,176.6 93.3,169.7 110.9,172.8 99.6,170.5 99.1,173.5 111.8,172.1 103.7,172.4 107.2,172.2 100.4,174.8 90.4,162.6 91.2,180.8 103.6,177.4 90.9,176.6 83.4,167.9 85.9,176.6 88.4,176.8 101,174.4 97.1,176.9 93.1,178.1 94,176.9 96.6,175.9 97.9,180 93.5,172.5 93,179.3 87.2,177 87.6,175.6 100.5,181.8 83.7,183.1 89.1,181.5 93.7,187.4 90.2,183.5 89.1,182.4 96.5,179.7 93.1,189 83.6,187.6 80.2,186.7 85.1,186.2 81.6,183.8 87.8,184.4 80.6,180.9 77.2,189.7 84.4,180.6 85.2,187.4 84.9,183.9 84.5,186.7 69.7,183.3 75.3,187.4 80,185.7 81.2,197.2 80.3,187.4 78.7,185.2 83.9,194.2 74.4,194.8 78.4,192.7 78.2,189.1 75.5,193.5 78.7,192.2 79.5,189.4 83.8,196.2 89.8,192.4 84.1,201.9 89.6,203.7 91.1,201.6 82.6,201.3 71.7,197.9 83.9,190.2 77.7,202.5 89.3,203.8 81,188 93.8,197.8 79.6,198.3 89.9,197.3 86.9,202.7 82,200 93.4,203.7 82.6,197.7 82.6,198.7 80.6,207.1 89.8,202.7 90.2,207.8 97.9,207.3 100.3,201.3 84.7,206.7 97,206.7 88.8,207.1 79.2,212.5 97.3,209.7 95.9,212.2 88.6,205.6 89,214.6 96.3,212.7 88.6,216.4 92.2,215.8 88,209.5 89.7,212.2 99.8,214.4 93.6,207.4 100.8,218.1 102.8,213.4 90.7,206.5 84.9,217.5 89.7,210.2 99.1,213.7 108.1,209.5 93.5,215.9 106.5,217.1 94.2,214.2 94.2,218.5 90.5,214.1 105,215.8 113.4,210.1 104,209.1 95.8,214 106,213.1 98.9,214.9 98.3,209.6 102,213.9 99.2,221.3 123,216 110.1,215.7 102.1,218.6 106.9,215.2 98.6,213.4 95.7,223 94.6,218.5 116.7,219.8 104.7,216.1 115.3,215.2 119,223.8 105.6,222.1 121.1,210.9 113.1,220.7 124,218.8 121.1,221.1 117.7,216.4 121.1,215.3 117.6,223.3 123.7,222.4 119.6,214.5 109.9,219.2 110.4,220.7 116.1,224.8 116.4,218.3 118.7,219.1 129.1,209.8 125.1,210.9 114.4,226.7 104.6,220.1 127.4,215.5 122.8,210.1 118.3,207.7 128,211.2 124.4,216.5 131.6,205.7 125.2,214.9 127.6,211.1 111.3,225.5 131.6,225.9 127,228.4 128.6,219.2 129.8,215.2 132.4,215.8 121.6,227.1 139.1,216.4 134.9,224.8 129.3,215.7 133.8,214.6 136.8,210 139.2,220.3 139.1,226.2 133.9,218.1 135.8,211.5 136,219.5 142.4,216.5 138.3,222.2 135.8,225.1 140.5,220 136.1,218 148.3,207.5 138,214.9 141.5,218 131.6,216.1 145.6,220.4 142.6,214.7 143.1,225.6 140.3,226 141.9,227.5 152.2,212.2 148.5,215.1 152.8,212.3 145,222.1 153.8,210.1 146,218.8 148,215 154.4,218.8 137.4,224.9 155.3,226.2 155.5,212.8 159.4,219 159.3,214.4 153.2,216.2 161.4,219.5 156.2,208.7 158.6,215.8 157.8,219.1 161.8,213.6 159.5,214.9 161,220.1 161.1,208.8 162.5,221 154.3,218.8 159.3,205.3 161.2,217.3 157.7,213.3 167.3,207.9 157.5,215 165.8,215.3 161.7,207.7 164.8,207.3 160.4,206.6 168.3,208 178.5,211.9 162,212.6 168.1,208.8 168.9,210.7 166.7,211.3 178.2,204.1 166.5,211.2 174.3,213 174.7,208.7 168.8,210.1 173.8,211.5 178.4,198.3 174.7,205.4 162.1,208.5 170.8,208.1 166.7,201.2 171.9,197.7 172.2,207.5 172.2,204.5 172.9,202.1 167.9,201.1 177.1,201.4 169.8,199.2 165.5,199.6 172.6,203.6 171.4,198.9 169.8,201.8 172.5,189.5 169.4,200.4 182.4,204.5 182.9,206.4 169.2,195.1 171.6,205.8 176.9,199.4 179.1,200.9 170.3,193.4 183.5,196.7 171.5,197.7 173.6,191.9 170.7,196.5 178.3,190.1 158.6,179.4 172.5,192 174.4,200.8 163.1,188.9 168.8,180.6 159.5,184.4 170.3,186.8 169.7,194.9 168.4,185.6 157.8,183.9 179,196.2 160.6,190.6 168.5,187.7 170.2,180.9 178.5,183 176.1,185.9 175.1,189.6 166.3,182.6 170.4,191.3 188.2,191.8 162.8,178.4 170.2,187.9 161.5,181 190.8,190.5 171.3,179.8 178,188.2 164,177.4 178.2,178 194.9,184.7 175.6,185.1 163.1,171.1 165,175.5 165.5,175.8 188.4,181.2 174.7,176.2" class="yl"/>
<path d="M57 97h0M79.7 101.3h0M61.2 112.4h0M69.7 113.8h0M80.2 99.7h0M87.4 109.5h0M69.3 87.1h0M69.1 106.9h0M72.9 116.7h0M79.2 102.5h0M81.1 92.6h0M75.8 94.2h0M53 84.1h0M85.7 95.5h0M77 86.3h0M73.2 104.9h0M76.8 106.2h0M70.7 90.4h0M75 96.9h0M81.8 97.3h0M97.4 100h0M89.1 91.5h0M73.5 98.1h0M83.8 99.7h0M70.3 113.7h0M73.6 93h0M95.2 86.2h0M80.4 78.6h0M76.4 82h0M87.3 94.1h0M85.6 101.3h0M97.7 91.3h0M88.9 92.9h0M91.4 89.7h0M89.1 95.1h0M87.8 92.5h0M98.5 81.3h0M92.2 95.6h0M88.2 91.8h0M93.3 89.7h0M93.7 91.7h0M97.5 82.2h0M88.7 83.2h0M103.8 88.3h0M97.5 89.1h0M91.8 82.3h0M99 82.1h0M103.8 85.8h0M96.4 83.9h0M96 84.6h0M91.3 83.1h0M101.2 80.7h0M95.2 81h0M87.6 85.6h0M99.8 81.9h0M110.7 81.5h0M104.3 78.2h0M102.6 79.3h0M100.8 77.1h0M105.8 80.2h0M99.7 80.1h0M91.5 82.3h0M103.3 80.1h0M109.2 76.7h0M108.7 76h0M102.1 74.4h0M103.8 77.4h0M119 73.1h0M98.4 71.7h0M100.2 72.2h0M108.5 70h0M106 66.1h0M110.2 70.2h0M106.4 71.3h0M103.8 72.2h0M121.3 71.5h0M107.7 75.9h0M113.2 74.6h0M117 75.9h0M104.2 76.2h0M122.9 70.1h0M117 69.9h0M106.4 70.1h0M125.2 69.2h0M130 71.2h0M123.2 69.5h0M117.3 78.4h0M122.1 69.9h0M129.7 75.9h0M117.5 69.2h0M121.2 80.4h0M135.5 71h0M128.1 72.8h0M115.7 64.2h0M127.8 74.1h0M118.1 63.2h0M128.4 77.4h0M115.8 73.6h0M131 74.5h0M135.8 70.9h0M131.4 72h0M123.4 74.5h0M131.6 78.9h0M137.9 66.8h0M131.5 73.3h0M131.6 68.4h0M146.1 64.3h0M151 69.5h0M142.7 65.3h0M136.3 76h0M143.1 67.2h0M138 69h0M145 72.3h0M140.5 69.1h0M139.8 74.5h0M148 67.3h0M138.2 74.1h0M144 68.6h0M150.1 67.9h0M150.8 70.8h0M149.7 71.2h0M153.7 65.2h0M156.4 68.5h0M150.2 72.7h0M142.1 78h0M149 72.9h0M156.5 70.5h0M157.3 69.1h0M159.6 70.1h0M161.3 70.3h0M166.5 68.9h0M156.2 72.8h0M162.2 77.2h0M147.1 74.4h0M157.1 75h0M161.9 73.9h0M163.1 75.9h0M152.9 74.4h0M160.6 71.2h0M163.3 71.9h0M165.7 75.8h0M173.1 71.1h0M170.5 74.1h0M159.7 69.3h0M166.8 74.2h0M158.6 73.4h0M167.2 70.3h0M175.9 67h0M171.2 84.4h0M163.8 74.5h0M168.6 73.8h0M174.3 67.3h0M157.6 69.4h0M170.2 78.6h0M175.6 70.7h0M166.9 78.1h0M179 66.6h0M178.9 70h0M171.3 81.1h0M171.8 72.8h0M173.8 75.1h0M173.9 75.6h0M180 74.6h0M184.2 78.3h0M175.5 85.4h0M170.2 81h0M181.9 80.9h0M180.5 82h0M194.8 77.2h0M199.5 82h0M175.4 74.1h0M188.7 85.6h0M186.8 80.6h0M181.4 79.7h0M177.5 84.3h0M171.5 77.5h0M185.7 81.5h0M190.4 84.4h0M185.5 80.7h0M182.7 86.5h0M171.3 75.2h0M190.5 86.5h0M188.3 83.6h0M183.2 84.8h0M191.1 85h0M195.7 84.1h0M194.6 87.3h0M183.7 91.6h0M187.7 83.7h0M188 83.4h0M194.9 93.3h0M195.2 100.1h0M186.5 93.8h0M196.4 84.9h0M201.3 97h0M198.1 95.5h0M197.1 87.7h0M198.9 91.9h0M192.1 95.1h0M194.7 90.9h0M188.3 93.6h0M206 104.2h0M203.9 100.3h0M197.5 103.7h0M182.7 106h0M190.7 100.9h0M195.7 100.5h0M184.5 109.8h0M189 106.8h0M182.9 105.3h0M186.7 110h0M189.4 107.8h0M190.1 100.4h0M186.8 106.7h0M182.9 106h0M194.3 109.1h0M182.4 106.6h0M195.2 115h0M194.2 103.8h0M178.7 101.3h0M196.4 103.3h0M181.6 113.3h0M185.9 110.6h0M189.2 116.1h0M179.1 114.2h0M188.4 113.9h0M178.7 116.5h0M185.6 120.3h0M184.6 118.3h0M184.4 124.8h0M178.4 119.9h0M175.3 123.7h0M183.6 115.2h0M179.4 124h0M190.5 126.5h0M186.8 120.7h0M169.7 126.4h0M179.5 123.2h0M180.3 124h0M186.9 121.8h0M172.2 123.7h0M169.3 122.3h0M176.9 122h0M170.2 124.3h0M171.2 124.4h0M173.6 125.3h0M171.8 129.5h0M169 130.4h0M173.8 128.8h0M173.6 124.2h0M166.5 127.4h0M177.6 126.8h0M167.2 126.5h0M167.6 132.6h0M167.2 127.9h0M164.5 128.2h0M165.1 128.1h0M169.2 130.3h0M165.1 127.8h0M170.1 135.9h0M165.5 136.6h0M158.3 132.2h0M159 131.3h0M166.1 131h0M163.9 132.9h0M165.4 131.9h0M166.7 133h0M152.3 130.5h0M159.8 136.2h0M166.2 131.6h0M154.1 130.9h0M152.5 137.6h0M153.4 135.7h0M147.5 137.6h0M147.7 130.6h0M149 140.9h0M149.6 143.7h0M151.2 134h0M157.9 140h0M155.3 142h0M141.5 134.2h0M147.9 136.3h0M150.8 135.5h0M153.4 146.2h0M148.5 141.7h0M145.9 136h0M138.4 140.7h0M142.5 138.6h0M140 140.4h0M143.3 134.7h0M144.7 144h0M144.2 135.8h0M136 140.1h0M135 136.3h0M127.6 140.3h0M133.7 140h0M129.4 137.3h0M135.6 141h0M131.3 140.2h0M131.5 143h0M133.9 137.4h0M136.8 139.3h0M135.4 140.1h0M134 141.7h0M132.3 143.7h0M133.7 144.2h0M132 139.9h0M130.3 136.5h0M119.9 142h0M128.5 149.7h0M131.9 149.8h0M127 147.5h0M133.5 146.1h0M129.2 145.3h0M123 141.9h0M119.7 148.8h0M126.9 145.4h0M129.6 154.7h0M117.8 153.9h0M125.7 143.2h0M127.9 141.9h0M120.3 148h0M120.7 143.9h0M132.2 147.8h0M122.5 149.7h0M121.5 152.5h0M116.6 153h0M118.2 151.5h0M108 151.7h0M114.8 148.8h0M103.1 148.4h0M118.5 161.2h0M118.3 152.5h0M114.3 153.4h0M116.8 156.3h0M114.2 156.4h0M113.1 159.2h0M105.9 159.4h0M111 154.9h0M107.9 150.5h0M111.7 154h0M105.4 148.2h0M101 152.2h0M110.6 157.9h0M97.5 150.2h0M112.4 160.5h0M101.8 164.3h0M111.7 158.4h0M106.5 160.6h0M111.4 158.7h0M88.6 160.7h0M104.4 161.6h0M99.5 164h0M96.8 166.5h0M89.8 164.1h0M103.9 161.3h0M87.4 166.5h0M94.5 167.8h0M103.8 164.4h0M99.4 169.6h0M89.1 165.8h0M104.5 165.2h0M109 176.6h0M93.3 169.7h0M110.9 172.8h0M99.1 173.5h0M111.8 172.1h0M103.7 172.4h0M100.4 174.8h0M90.4 162.6h0M91.2 180.8h0M103.6 177.4h0M90.9 176.6h0M83.4 167.9h0M85.9 176.6h0M88.4 176.8h0M101 174.4h0M97.1 176.9h0M93.1 178.1h0M94 176.9h0M96.6 175.9h0M97.9 180h0M93.5 172.5h0M93 179.3h0M87.6 175.6h0M83.7 183.1h0M89.1 181.5h0M93.7 187.4h0M90.2 183.5h0M96.5 179.7h0M93.1 189h0M81.6 183.8h0M87.8 184.4h0M84.4 180.6h0M84.9 183.9h0M69.7 183.3h0M80 185.7h0M81.2 197.2h0M83.9 194.2h0M74.4 194.8h0M78.4 192.7h0M75.5 193.5h0M78.7 192.2h0M79.5 189.4h0M89.8 192.4h0M84.1 201.9h0M89.6 203.7h0M91.1 201.6h0M82.6 201.3h0M71.7 197.9h0M83.9 190.2h0M77.7 202.5h0M89.3 203.8h0M93.8 197.8h0M79.6 198.3h0M89.9 197.3h0M86.9 202.7h0M82 200h0M93.4 203.7h0M82.6 198.7h0M89.8 202.7h0M90.2 207.8h0M97.9 207.3h0M100.3 201.3h0M84.7 206.7h0M97 206.7h0M88.8 207.1h0M79.2 212.5h0M97.3 209.7h0M95.9 212.2h0M88.6 205.6h0M89 214.6h0M96.3 212.7h0M88.6 216.4h0M92.2 215.8h0M88 209.5h0M89.7 212.2h0M99.8 214.4h0M93.6 207.4h0M100.8 218.1h0M102.8 213.4h0M90.7 206.5h0M84.9 217.5h0M89.7 210.2h0M99.1 213.7h0M108.1 209.5h0M106.5 217.1h0M94.2 218.5h0M90.5 214.1h0M105 215.8h0M113.4 210.1h0M106 213.1h0M102 213.9h0M99.2 221.3h0M123 216h0M110.1 215.7h0M102.1 218.6h0M98.6 213.4h0M95.7 223h0M94.6 218.5h0M116.7 219.8h0M104.7 216.1h0M119 223.8h0M105.6 222.1h0M113.1 220.7h0M124 218.8h0M117.7 216.4h0M121.1 215.3h0M117.6 223.3h0M109.9 219.2h0M110.4 220.7h0M116.1 224.8h0M116.4 218.3h0M118.7 219.1h0M129.1 209.8h0M125.1 210.9h0M104.6 220.1h0M127.4 215.5h0M118.3 207.7h0M128 211.2h0M124.4 216.5h0M131.6 205.7h0M125.2 214.9h0M127.6 211.1h0M129.8 215.2h0M132.4 215.8h0M139.1 216.4h0M134.9 224.8h0M129.3 215.7h0M133.8 214.6h0M139.1 226.2h0M135.8 211.5h0M136 219.5h0M142.4 216.5h0M135.8 225.1h0M140.5 220h0M148.3 207.5h0M138 214.9h0M141.5 218h0M145.6 220.4h0M142.6 214.7h0M143.1 225.6h0M141.9 227.5h0M152.2 212.2h0M148.5 215.1h0M152.8 212.3h0M145 222.1h0M153.8 210.1h0M146 218.8h0M154.4 218.8h0M155.3 226.2h0M155.5 212.8h0M159.4 219h0M159.3 214.4h0M153.2 216.2h0M161.4 219.5h0M156.2 208.7h0M158.6 215.8h0M157.8 219.1h0M161.8 213.6h0M161 220.1h0M161.1 208.8h0M159.3 205.3h0M167.3 207.9h0M157.5 215h0M161.7 207.7h0M164.8 207.3h0M160.4 206.6h0M168.3 208h0M178.5 211.9h0M162 212.6h0M168.1 208.8h0M168.9 210.7h0M166.7 211.3h0M178.2 204.1h0M166.5 211.2h0M174.3 213h0M174.7 208.7h0M168.8 210.1h0M173.8 211.5h0M178.4 198.3h0M174.7 205.4h0M162.1 208.5h0M170.8 208.1h0M172.2 207.5h0M172.2 204.5h0M172.9 202.1h0M167.9 201.1h0M177.1 201.4h0M169.8 199.2h0M165.5 199.6h0M172.6 203.6h0M169.8 201.8h0M172.5 189.5h0M169.4 200.4h0M182.4 204.5h0M182.9 206.4h0M169.2 195.1h0M171.6 205.8h0M176.9 199.4h0M179.1 200.9h0M170.3 193.4h0M183.5 196.7h0M171.5 197.7h0M173.6 191.9h0M170.7 196.5h0M158.6 179.4h0M172.5 192h0M174.4 200.8h0M168.8 180.6h0M159.5 184.4h0M170.3 186.8h0M168.4 185.6h0M157.8 183.9h0M179 196.2h0M160.6 190.6h0M168.5 187.7h0M170.2 180.9h0M175.1 189.6h0M166.3 182.6h0M170.4 191.3h0M162.8 178.4h0M170.2 187.9h0M161.5 181h0M190.8 190.5h0M171.3 179.8h0M178 188.2h0M194.9 184.7h0M175.6 185.1h0M163.1 171.1h0M165 175.5h0M165.5 175.8h0M188.4 181.2h0M174.7 176.2h0" class="yd"/>
<path d="M65 104.3h0M74.5 80h0M80.1 93.6h0M93.7 96.5h0M64.2 101.1h0M84.6 106h0M84.8 98.3h0M89.9 96.7h0M104.6 94.6h0M98.8 81.4h0M98.2 82.6h0M107.1 75.8h0M106.7 81.9h0M113.4 77.6h0M111 75.6h0M113.1 72.8h0M111.3 74.6h0M112.7 69.1h0M119.8 70.3h0M119.5 73h0M133.2 67.3h0M133 65.3h0M126.4 59.5h0M130.3 71.2h0M132 69.3h0M144.6 76.1h0M154.7 70.9h0M139.7 75.3h0M147.6 74.1h0M160.6 70.4h0M152.5 64.5h0M149.2 73.8h0M156.4 68.8h0M162.6 76.7h0M167.7 71.9h0M157.6 78.6h0M160.8 77.2h0M176.8 75.9h0M164.4 69.5h0M178.8 82.6h0M185.2 81.9h0M197.9 89.5h0M188.1 88.5h0M192 83.7h0M191.6 96.9h0M192.8 91.3h0M196.6 98h0M186.8 100.1h0M198.9 100.9h0M187 98.1h0M197.2 103.4h0M188.5 101.8h0M185.8 101.4h0M189.2 111.7h0M190.3 119.5h0M189 114.8h0M185.6 118.3h0M185.1 117.4h0M186.3 118.4h0M189.8 114.7h0M177.3 121.4h0M185.3 119.7h0M181.3 123.1h0M180.8 119.9h0M175.4 122.3h0M165.1 124.8h0M162.3 125.4h0M160.3 129.3h0M154.6 131.2h0M161.5 139.7h0M158.6 132.9h0M148.9 137h0M159.5 128.6h0M153 127.8h0M155.8 143.5h0M148 140.1h0M145.8 139h0M135.3 149.5h0M142.2 139.4h0M125.2 142.4h0M126.3 145.6h0M112.3 148.7h0M111.7 150.5h0M111.8 152.2h0M116.9 160.1h0M109.2 160.5h0M118.9 158.5h0M107.4 150.8h0M108.5 148.6h0M103.1 157.8h0M104.4 160.7h0M104.1 159.4h0M99.2 162.3h0M107.4 158.6h0M97.1 169.2h0M108 166.1h0M96.3 166.9h0M99.6 170.5h0M107.2 172.2h0M87.2 177h0M100.5 181.8h0M89.1 182.4h0M83.6 187.6h0M80.2 186.7h0M85.1 186.2h0M80.6 180.9h0M77.2 189.7h0M85.2 187.4h0M84.5 186.7h0M75.3 187.4h0M80.3 187.4h0M78.7 185.2h0M78.2 189.1h0M83.8 196.2h0M81 188h0M82.6 197.7h0M80.6 207.1h0M93.5 215.9h0M94.2 214.2h0M104 209.1h0M95.8 214h0M98.9 214.9h0M98.3 209.6h0M106.9 215.2h0M115.3 215.2h0M121.1 210.9h0M121.1 221.1h0M123.7 222.4h0M119.6 214.5h0M114.4 226.7h0M122.8 210.1h0M111.3 225.5h0M131.6 225.9h0M127 228.4h0M128.6 219.2h0M121.6 227.1h0M136.8 210h0M139.2 220.3h0M133.9 218.1h0M138.3 222.2h0M136.1 218h0M131.6 216.1h0M140.3 226h0M148 215h0M137.4 224.9h0M159.5 214.9h0M162.5 221h0M154.3 218.8h0M161.2 217.3h0M157.7 213.3h0M165.8 215.3h0M166.7 201.2h0M171.9 197.7h0M171.4 198.9h0M178.3 190.1h0M163.1 188.9h0M169.7 194.9h0M178.5 183h0M176.1 185.9h0M188.2 191.8h0M164 177.4h0M178.2 178h0" class="yd2"/>
<polyline points="71.5,105 72,104.4 72.7,103.7 73.4,102.9 74.2,101.9 75,100.9 75.9,99.9 76.9,98.7 77.9,97.6 79,96.4 80.1,95.1 81.2,93.9 82.4,92.7 83.5,91.5 84.7,90.4 85.9,89.3 87,88.3 88.2,87.3 89.4,86.3 90.7,85.3 92,84.3 93.4,83.3 94.8,82.3 96.2,81.3 97.6,80.3 99,79.4 100.4,78.5 101.7,77.6 103.1,76.7 104.4,75.9 105.6,75.1 106.9,74.4 108,73.7 109.1,73.1 110.1,72.6 111.1,72.1 112,71.6 112.9,71.2 113.8,70.8 114.6,70.5 115.5,70.1 116.3,69.8 117.1,69.5 118,69.3 118.8,69 119.7,68.7 120.6,68.5 121.5,68.2 122.5,67.9 123.5,67.6 124.5,67.3 125.5,67 126.6,66.8 127.6,66.5 128.7,66.2 129.8,66 130.9,65.7 132,65.5 133.1,65.3 134.2,65.1 135.3,64.9 136.5,64.8 137.6,64.6 138.8,64.5 140,64.4 141.2,64.3 142.5,64.2 143.8,64.2 145.1,64.1 146.4,64.1 147.7,64.1 149.1,64.1 150.4,64.1 151.8,64.2 153.2,64.2 154.5,64.3 155.8,64.4 157.1,64.5 158.4,64.7 159.6,64.8 160.8,65 162,65.2 163.1,65.4 164.2,65.7 165.3,66 166.4,66.3 167.5,66.6 168.6,66.9 169.6,67.2 170.6,67.6 171.7,68 172.7,68.4 173.7,68.8 174.6,69.2 175.6,69.7 176.6,70.1 177.5,70.6 178.4,71.1 179.4,71.6 180.3,72.1 181.3,72.7 182.2,73.3 183.1,73.9 184,74.5 184.9,75.1 185.8,75.7 186.6,76.4 187.4,77 188.2,77.6 188.9,78.2 189.6,78.8 190.3,79.4 190.9,80 191.5,80.6 192,81.1 192.4,81.7 192.8,82.2 193.2,82.8 193.6,83.3 193.9,83.9 194.2,84.4 194.4,84.9 194.7,85.5 194.9,86 195.2,86.5 195.4,87.1 195.6,87.6 195.9,88.2 196.1,88.7 196.3,89.2 196.6,89.8 196.8,90.4 197,90.9 197.2,91.5 197.4,92 197.6,92.6 197.7,93.2 197.9,93.7 198,94.3 198.2,94.8 198.3,95.4 198.4,95.9 198.5,96.4 198.6,96.9 198.7,97.4 198.8,97.9 198.8,98.3 198.9,98.8 198.9,99.2 199,99.7 199,100.1 199,100.5 199,100.9 199,101.3 199,101.7 199,102.1 198.9,102.5 198.9,103 198.8,103.4 198.8,103.8 198.7,104.3 198.6,104.8 198.5,105.2 198.4,105.7 198.3,106.2 198.2,106.7 198,107.2 197.9,107.7 197.7,108.2 197.6,108.7 197.4,109.2 197.2,109.7 197,110.2 196.8,110.7 196.6,111.2 196.3,111.7 196.1,112.2 195.9,112.7 195.6,113.2 195.3,113.7 195.1,114.2 194.8,114.7 194.5,115.2 194.2,115.7 193.9,116.2 193.6,116.6 193.2,117.1 192.9,117.6 192.5,118.1 192.1,118.6 191.7,119.1 191.3,119.5 190.9,120 190.5,120.5 190,120.9 189.5,121.4 189.1,121.9 188.6,122.3 188,122.8 187.5,123.2 187,123.7 186.4,124.1 185.9,124.6 185.3,125 184.7,125.4 184.1,125.8 183.5,126.2 182.8,126.6 182.2,127 181.5,127.4 180.9,127.7 180.2,128 179.5,128.3 178.9,128.6 178.2,128.9 177.5,129.2 176.7,129.4 176,129.7 175.2,130 174.4,130.3 173.6,130.6 172.7,130.9 171.9,131.2 170.9,131.5 170,131.9 169,132.3 168,132.7 166.9,133.1 165.8,133.6 164.6,134 163.4,134.5 162.3,135 161,135.5 159.8,136 158.6,136.4 157.3,136.9 156.1,137.4 154.9,137.9 153.6,138.3 152.4,138.8 151.2,139.2 150.1,139.6 148.8,140 147.6,140.4 146.4,140.9 145.1,141.3 143.8,141.7 142.6,142.1 141.3,142.4 140.1,142.8 138.9,143.2 137.7,143.6 136.6,144 135.5,144.3 134.4,144.7 133.4,145 132.5,145.4 131.7,145.7 130.9,146.1 130.2,146.4 129.6,146.7 129,146.9 128.5,147.2 128,147.5 127.5,147.8 127,148 126.5,148.3 126,148.6 125.4,148.9 124.8,149.3 124.1,149.6 123.3,150 122.5,150.4 121.6,150.8 120.5,151.3 119.5,151.8 118.3,152.3 117.1,152.8 115.9,153.3 114.7,153.9 113.4,154.4 112.1,155 110.9,155.6 109.6,156.1 108.3,156.7 107.1,157.2 106,157.7 104.8,158.3 103.7,158.8 102.7,159.2 101.7,159.7 100.7,160.1 99.7,160.6 98.8,161 97.8,161.5 96.9,161.9 96,162.3 95.1,162.7 94.2,163.2 93.3,163.6 92.5,164.1 91.6,164.5 90.8,165 90,165.5 89.2,166 88.4,166.5 87.7,167.1 86.9,167.6 86.2,168.2 85.5,168.7 84.8,169.3 84.1,169.9 83.5,170.5 82.8,171.1 82.2,171.7 81.6,172.3 81,172.9 80.4,173.5 79.8,174.2 79.3,174.8 78.8,175.4 78.2,176 77.7,176.6 77.2,177.3 76.8,177.9 76.3,178.5 75.9,179.2 75.4,179.8 75,180.5 74.6,181.1 74.3,181.8 73.9,182.4 73.6,183.1 73.3,183.8 73,184.4 72.7,185.1 72.5,185.8 72.3,186.5 72.1,187.2 71.9,187.9 71.7,188.7 71.6,189.4 71.5,190.1 71.4,190.9 71.3,191.6 71.2,192.4 71.2,193.1 71.2,193.9 71.2,194.6 71.2,195.4 71.3,196.1 71.4,196.8 71.5,197.5 71.6,198.2 71.8,198.9 72,199.6 72.2,200.3 72.5,200.9 72.8,201.6 73.1,202.3 73.4,203 73.7,203.6 74.1,204.3 74.5,204.9 74.9,205.6 75.3,206.2 75.8,206.8 76.2,207.4 76.7,208 77.2,208.6 77.7,209.2 78.3,209.7 78.8,210.3 79.4,210.8 80,211.3 80.6,211.9 81.3,212.4 81.9,212.9 82.6,213.4 83.3,213.9 84,214.4 84.7,214.9 85.5,215.3 86.2,215.8 87,216.2 87.8,216.7 88.6,217.1 89.5,217.6 90.3,218 91.2,218.4 92.1,218.9 93,219.3 94,219.7 94.9,220.1 95.9,220.4 96.8,220.8 97.8,221.2 98.8,221.5 99.7,221.9 100.7,222.2 101.7,222.5 102.7,222.8 103.7,223.1 104.8,223.4 105.8,223.7 106.9,223.9 108,224.2 109.1,224.4 110.2,224.7 111.3,224.9 112.4,225.1 113.4,225.3 114.5,225.4 115.5,225.6 116.4,225.8 117.4,225.9 118.3,226 119.2,226.1 120,226.2 120.8,226.2 121.5,226.2 122.2,226.3 122.9,226.3 123.6,226.3 124.3,226.2 124.9,226.2 125.6,226.2 126.3,226.1 127,226 127.7,226 128.4,225.9 129.2,225.9 130,225.8 130.8,225.7 131.7,225.7 132.5,225.6 133.4,225.6 134.3,225.5 135.2,225.4 136.1,225.3 137,225.2 137.9,225.1 138.8,225 139.8,224.9 140.7,224.8 141.7,224.6 142.6,224.4 143.6,224.2 144.6,224 145.6,223.8 146.6,223.5 147.7,223.3 148.7,223 149.8,222.7 150.9,222.4 152,222.1 153.1,221.7 154.2,221.4 155.3,221 156.4,220.6 157.5,220.2 158.5,219.8 159.6,219.3 160.6,218.8 161.6,218.3 162.6,217.7 163.6,217.1 164.5,216.5 165.5,215.8 166.4,215.1 167.4,214.3 168.3,213.6 169.2,212.8 170.1,212.1 171,211.3 171.9,210.5 172.8,209.8 173.6,209 174.4,208.3 175.2,207.6 176,207 176.7,206.4 177.5,205.8 178.1,205.3 178.8,204.8 179.4,204.3 180,203.8 180.6,203.3 181.2,202.8 181.8,202.3 182.3,201.8 182.9,201.3 183.5,200.8 184.1,200.3 184.7,199.7 185.3,199.1 186,198.5 186.7,197.8 187.4,197.1 188.2,196.3 189,195.5 189.8,194.6 190.6,193.7 191.5,192.8 192.3,192 193.1,191.1 193.8,190.3 194.6,189.5 195.2,188.7 195.9,188.1 196.4,187.4 196.9,186.9 197.3,186.5" class="gt"/>
<polyline points="71.1,105.6 72.3,104 74.1,103.2 74.8,101.8 76.6,100.8 78.4,99.3 78.9,98.5 79.5,97 81.1,95.3 82.3,94.4 85.2,95.3 86.5,95.2 88.1,94.1 89.1,93.9 91.3,93 91.6,91 92.3,90.3 94.3,88.6 95,87 95.8,86.1 96.7,84.7 98.5,82.7 99,81.8 101,80.5 102.6,80.6 103.7,77.9 103.3,77.8 106.2,75.8 106.8,74.6 107.6,74.2 109.2,73.5 112,72.9 113.8,72.3 115,73.1 117.5,73.1 117.5,73.7 118.8,72.7 120.8,72.7 122.8,72.1 124.5,70.8 125.2,72.1 128,70.5 129.5,71.4 130.6,71.9 132.9,70.5 135.3,70.7 135.9,71 138.3,71.1 139.3,70 141.8,70.5 142.1,70.7 145.2,70.9 147.2,71.3 148.1,71.1 149.4,72.2 151.8,72.7 153.7,71.7 154.9,72.8 156.1,72.9 157.9,73.1 159.8,73.2 161.2,73.7 163.5,74.3 164.9,73.6 166.7,74.1 167.7,74.9 169.8,75.2 171.2,75.7 173,76.1 175.4,77.4 176.6,77.4 177.9,78.6 179.7,79.8 179.9,80.8 181.4,81.7 183.6,81.3 185.4,82.8 185.8,83.6 187.7,84.5 187.8,87.7 188.5,88.5 189.7,90.4 190.4,90.3 190.1,93.8 190.3,95.7 191.1,95.9 191.2,99.2 190.1,100.1 189.4,101.1 189.1,103.2 188.4,104.5 188.7,105.4 185.8,107.7 186.1,108.3 186.1,110.2 183.8,112.2 183.9,114.7 181.9,114.3 181.6,116.1 180.7,117.3 178.9,118.8 178.8,120.6 176.8,121.6 176,122 174.2,123.2 174.3,124.2 171.2,125.1 170.2,127 167.9,126.7 167.9,128.3 166,129.2 163.8,129.8 162.3,129.6 161.6,130.5 159.6,131.9 157.6,132.4 157.7,132.6 155.4,133.6 152.7,133.1 151.7,133.2 150.2,135 148.8,135.7 147.6,135.9 146,136.9 144,137.2 142.7,137.5 141,139.1 138.7,138.7 137.1,139.9 136.2,141 135.4,142.2 133.1,141.9 130.9,143.4 130.3,143.7 128.5,144.6 125.8,145.6 125.8,146.4 123.6,147.4 123,149.1 121.8,149.3 119.7,149.1 118,149.9 116.6,151.8 115.7,152.5 113.6,153.3 111.9,152.5 110.6,154.2 108.1,154.6 106.2,155.3 106.6,156.2 105.5,157.9 103.6,158.3 103.7,161.1 102.1,162.2 103,163.7 102.3,164.7 101.3,167.8 100.9,168.3 100.5,170.5 100.1,172.3 100.7,174.8 99.7,176.5 99.5,177.1 98.6,179.4 97.9,180.3 95.8,181.4 94.5,181.9 93.1,183.6 90.8,183.5 89.4,184.8 89.1,185.9 86.9,186.1 85.9,187 84.3,187.9 83.1,188.9 82.8,189.9 82.9,191.6 83.8,193.4 84.8,195.9 84.8,196.4 86.5,198.9 87.6,199.9 88.1,200.8 89.3,202.7 90,203.7 89.9,205 91.4,206.3 92.6,207.7 93.2,210 94.9,211.2 96.3,212 96.6,213.9 98,214.1 99.2,215.4 102.1,214.8 102.5,215.6 105.2,216.3 107.7,216 108.3,215.8 110,215.4 111.4,216.1 112.7,215.6 115.8,215.9 117.3,216.8 118.6,216.7 120.2,215.8 121.9,216 123,214.7 124.4,214.8 126.2,214.1 128.4,213.9 129.6,215.3 131.4,215.5 132.9,214.7 134.6,214.9 136.2,215.2 138.5,215.8 139.7,215.4 143.1,215.8 143.9,215.5 144.5,216.8 146,215.8 148.2,216 149.8,216.4 152.1,216.3 153.4,216.5 155.6,215.2 155.6,214.4 158.7,214.2 159.4,213.6 162.1,213.1 162.4,211.7 163.2,212.1 164.9,209.6 166.2,209.2 167.3,206.8 169,207.1 172,206.2 171.8,205.2 172.4,203.3 172.8,202.2 172.3,200.9 172.3,198.7 171.7,197.2 171.6,195.7 170.3,194.2 169.6,192.4 169.2,191.8 167.3,189.4 166.4,189.4 165.1,188.7 164.4,186.6 166.7,184.9 166.6,183.6 167.5,182 165.8,180.2 167.5,179.1 167.6,177.1 168.8,175.4 170.5,175.5" class="bk"/>
<path d="M174.3 175.4h0" class="bkd"/>
<path d="M9.4 244.4v-2.2M9.4 3.6v2.2M34.5 244.4v-2.2M34.5 3.6v2.2M59.7 244.4v-2.2M59.7 3.6v2.2M84.8 244.4v-2.2M84.8 3.6v2.2M110 244.4v-2.2M110 3.6v2.2M135.1 244.4v-2.2M135.1 3.6v2.2M160.3 244.4v-2.2M160.3 3.6v2.2M185.4 244.4v-2.2M185.4 3.6v2.2M210.6 244.4v-2.2M210.6 3.6v2.2M235.7 244.4v-2.2M235.7 3.6v2.2M9.4 226.7h2.2M235.7 226.7h-2.2M9.4 186.4h2.2M235.7 186.4h-2.2M9.4 146.2h2.2M235.7 146.2h-2.2M9.4 105.9h2.2M235.7 105.9h-2.2M9.4 65.7h2.2M235.7 65.7h-2.2M9.4 25.4h2.2M235.7 25.4h-2.2" class="tk"/>
<rect x="9.4" y="3.6" width="226.3" height="240.8" class="box"/>
<text x="9.4" y="255.2" class="tl" text-anchor="middle">1300</text>
<text x="34.5" y="255.2" class="tl" text-anchor="middle">1280</text>
<text x="59.7" y="255.2" class="tl" text-anchor="middle">1260</text>
<text x="84.8" y="255.2" class="tl" text-anchor="middle">1240</text>
<text x="110" y="255.2" class="tl" text-anchor="middle">1220</text>
<text x="135.1" y="255.2" class="tl" text-anchor="middle">1200</text>
<text x="160.3" y="255.2" class="tl" text-anchor="middle">1180</text>
<text x="185.4" y="255.2" class="tl" text-anchor="middle">1160</text>
<text x="210.6" y="255.2" class="tl" text-anchor="middle">1140</text>
<text x="235.7" y="255.2" class="tl" text-anchor="middle">1120</text>
<text x="238" y="229.3" class="tl">1200</text>
<text x="238" y="189" class="tl">1250</text>
<text x="238" y="148.8" class="tl">1300</text>
<text x="238" y="108.5" class="tl">1350</text>
<text x="238" y="68.3" class="tl">1400</text>
<text x="238" y="28" class="tl">1450</text>
<text x="122.5" y="266.2" class="al" text-anchor="middle">World Y axis</text>
<text transform="translate(264.9 124) rotate(-90)" class="al" text-anchor="middle">World X axis</text>
<rect x="148.2" y="7.3" width="86.8" height="34.8" class="lg"/>
<line x1="150.1" y1="12.2" x2="162" y2="12.2" stroke="#5a5ae6" stroke-width="0.6" stroke-dasharray="none"/>
<circle cx="156.1" cy="12.2" r="1.3" fill="none" stroke="#4848e0" stroke-width="0.7"/>
<text x="163.1" y="14.7" class="lt">Vehicle GT Position</text>
<line x1="150.1" y1="20.5" x2="162" y2="20.5" stroke="#e46a6a" stroke-width="0.6" stroke-dasharray="1.5 1"/>
<path d="M156.1 18.8l1.6 2.8h-3.2z" fill="#e88" stroke="#e05050" stroke-width="0.6"/>
<text x="163.1" y="23" class="lt">Noisy Vehicle Position</text>
<line x1="150.1" y1="29.1" x2="162" y2="29.1" stroke="#f0d080" stroke-width="0.6" stroke-dasharray="1.5 1"/>
<circle cx="156.1" cy="29.1" r="1.3" fill="#f2d27a"/>
<text x="163.1" y="31.6" class="lt">PF Estimation</text>
<line x1="150.1" y1="37.8" x2="162" y2="37.8" stroke="#333" stroke-width="0.6" stroke-dasharray="1.5 1"/>
<circle cx="156.1" cy="37.8" r="0.9" fill="#111"/>
<text x="163.1" y="40.3" class="lt">PAUKF Estimation</text>
<line x1="319.3" y1="3.6" x2="319.3" y2="244.4" class="grid"/>
<line x1="344.2" y1="3.6" x2="344.2" y2="244.4" class="grid"/>
<line x1="369" y1="3.6" x2="369" y2="244.4" class="grid"/>
<line x1="393.8" y1="3.6" x2="393.8" y2="244.4" class="grid"/>
<line x1="418.7" y1="3.6" x2="418.7" y2="244.4" class="grid"/>
<line x1="443.5" y1="3.6" x2="443.5" y2="244.4" class="grid"/>
<line x1="468.3" y1="3.6" x2="468.3" y2="244.4" class="grid"/>
<line x1="493.2" y1="3.6" x2="493.2" y2="244.4" class="grid"/>
<line x1="294.5" y1="226.7" x2="518.0" y2="226.7" class="grid"/>
<line x1="294.5" y1="186.4" x2="518.0" y2="186.4" class="grid"/>
<line x1="294.5" y1="146.2" x2="518.0" y2="146.2" class="grid"/>
<line x1="294.5" y1="105.9" x2="518.0" y2="105.9" class="grid"/>
<line x1="294.5" y1="65.7" x2="518.0" y2="65.7" class="grid"/>
<line x1="294.5" y1="25.4" x2="518.0" y2="25.4" class="grid"/>
<polyline points="365.6,124 325.2,80.1 386.9,123.1 333.8,70.1 386.4,75.9 361.9,62.6 347,93.6 338.6,88.9 328.4,105.8 344.7,68.6 360.5,99.3 373.9,60.8 342.9,101.5 410.8,57.3 377.6,83.2 387.1,78.2 342.4,105.7 366,53.5 370.9,122.8 415.6,68.3 323.3,80 364.6,88.5 355,91.7 359.7,66.3 362.9,84 315.3,68.2 312.2,92 344.5,89 342.1,83.7 370.8,58 394.6,71.7 331,47.5 364.6,77.7 361,109.1 332.8,75.5 418.3,100.3 405.8,40.1 389.7,50.9 360.3,63.9 385.9,70.9 434.3,61.3 422.1,51.4 335.4,72.8 386.4,52.2 412.5,43.9 328.8,69.8 325.8,95.3 412.7,40.5 403.9,63.6 352.9,103 424.3,73 423.5,57.6 325.2,62.9 333.2,91.5 319.2,49.4 372.4,41.6 415.2,35.1 351.4,70.7 352,83.5 316.8,60.6 431.3,32.9 435.7,36.4 349.1,46.8 395,34.7 316.9,69.4 418,50.3 422.4,69.9 345.2,83.9 330.9,81.6 448.8,76.3 325.1,64.1 349.5,60.8 382,47.5 335.1,51.8 405.1,72.7 357.6,62.3 345.8,50.8 378.9,84.7 443.8,66.8 383.1,56.5 470.1,71.9 385.3,73.1 358.3,75.4 461.8,50.2 458.5,62.7 343.9,63.5 377.9,40.9 466.8,66.9 345.4,65.1 409.7,34 457.7,71.8 360,52.1 358.3,67 486.2,65.2 437.5,54.7 437.2,72.7 435,67.4 428.7,56.1 368.9,48.3 491.3,50 461,81.4 492.9,53.9 474.1,83.7 374.8,66.9 429.7,52.6 404,69.1 465,35.7 393.4,39.9 446.1,52 385.7,71.3 382.4,65.4 483.4,38.9 486.1,83.6 432.9,37.9 475.5,51.2 457.7,38.2 386.7,42.2 461.9,91.2 436.2,57.9 453.2,55.4 488.6,76.3 480.7,72 413.2,42.6 467.7,85 462,42.7 429.1,35.3 482.2,86.4 495.9,87.6 434.7,43.5 423.4,40 440,63.4 475.3,52.2 496.2,65.7 476.5,101.7 442.1,101.6 440.9,57.8 416,66 415.6,62.8 444.6,61.3 462.7,47.5 457.6,50.8 490.1,64.9 501.1,87.7 456.9,47 437.3,46.2 465.6,109 459,52.3 504.1,68.1 445.6,60.5 487.2,97.9 491.3,58.5 425.7,71 457.9,74.4 470.1,99 496.9,74.2 494.6,85.6 450.7,70.3 435.4,65 447,66.3 463.5,94.4 443.8,111.1 488.7,113.2 441.4,75 471.9,59.7 480.2,69 480.8,111.7 450.2,84.6 490.1,83.3 457.8,111.7 502.6,69.1 501.7,71.1 493.2,121.9 493.8,79.4 429.5,81.2 501.8,68.4 475.7,131.2 444.5,98.2 497.8,78.2 442,104 456.5,123.7 428.1,110.1 449.9,120.1 456.3,72.8 470.7,86.2 495.1,84.1 444.3,117.9 494,79.9 445,94.7 496,84.1 496.9,95.1 466,93.4 471.3,132.1 478.1,80.2 436.7,124.4 450.1,98.3 462.1,144.3 482.4,98.5 458.7,122.1 426.9,135 447.8,121.4 484.6,126.7 473.6,131.3 459.1,111 444,107.9 501.9,89.6 468.4,100.2 441.7,120 483.7,100.4 449,126.4 443.1,117.2 437.4,112.4 480.4,108.2 476.5,115 441.1,113.3 479.6,133.5 475.7,126.1 433.1,149.4 447.9,103.8 418.4,127.6 441.1,124.5 405,135 407,117.3 411,140.4 477.4,134.7 455,103.2 474.4,118 444.9,124.8 421.3,125.9 453,141.8 482.5,126 433.5,146.9 439.1,104.4 419.7,131.2 436.9,121.9 453.4,121.8 400,143.8 406.8,145.9 486.9,117.1 433.4,135.5 444.4,115.9 400.1,130.9 415.4,115.5 388.8,133.2 464.2,124 445.7,129 459.7,104.7 469.4,105.7 435,104.1 479.9,116 450.9,128.9 434.6,122.1 465.6,113 459.2,115.7 444.9,163.1 486.4,120.1 407,115.6 429,124.9 462.9,113.8 404.2,117.4 445.9,151.4 428.2,151.8 429.4,149.8 396.9,119.3 460.9,116.2 407.1,139.1 440.7,171.2 440.3,149.9 440.8,173.2 405.4,116.8 461.2,133.2 357.3,143.1 450.1,162.2 464.7,127.1 401.4,143 399.9,123.3 415.3,141.3 360.7,129.2 471.7,132.5 416.4,136 456.6,134.6 365,139.3 355.1,146.3 408.8,125.2 392.8,122.2 395.3,117.3 402.7,183.2 353.3,150.9 420.3,145.5 444,163.7 394.1,184.1 355,152.3 417.9,136.9 392.4,138.1 398.7,158 380.8,148.5 371.5,137.4 421,175.5 344.4,161.8 448.4,167.3 450.1,172.9 402.8,133.4 421.3,169.4 332.3,165.5 394,123.3 378,139.3 361,170.4 361.8,167.1 386.1,133.9 385.7,146.4 382.9,189.6 369.1,137.4 446.7,152.1 380.3,188.4 438.9,165.9 351.1,131.4 338.8,138.5 391.8,128.3 345.4,162.3 377.5,188.1 393.6,184.1 350.7,175.1 377.5,141.8 397,146.6 390.6,186.8 394.4,179.5 366.5,144.2 396.6,180.6 359.3,173.6 357.4,162 370.6,144.4 367.5,139.7 411.6,153.5 316.4,169.5 362.4,166.3 369.1,183.2 406.7,192.8 318.2,191 388.9,190.3 381.2,190.6 356.5,201.7 331.4,161.4 340.5,158 396.5,148.3 361.4,188.6 416.8,177.3 412.4,164.5 344.8,150.3 405.8,184.2 337.2,158.4 344.3,190 314.9,170.4 311.3,191.4 322,178.9 303.6,179.2 337.6,203.5 392.6,192.7 329.2,177.6 406.5,178.1 338.1,204.9 412.5,186.7 339.5,174.9 361.5,176.1 358.3,184.7 410.6,175.9 306.7,188.8 351.3,217.5 363.5,193 332.1,215.4 390.1,205.6 334.2,199.3 359.1,179 355.1,166.8 352.9,218.1 386.7,200.7 309.6,219.7 396.8,215.1 332.2,177 354.2,199.5 379.4,219.1 357.3,188.4 409.6,191.2 309.4,191.2 367.4,215.5 341.1,194.6 327.6,197.5 395,202 386.7,190.7 328.8,200.1 391.3,185.9 394.7,181.4 315.4,192 396.9,203.5 408,227 409.4,229.1 419.8,207.1 392.2,197.7 413.2,225.8 358,179.2 336.8,233.7 318.3,198.7 377.1,184.5 379,219.3 333,189.1 415.3,215.9 364.9,228.1 399.3,233.6 358.5,226.7 404.1,212.7 331.9,192.8 350.5,191.3 392.7,187.9 412.6,199.9 396.6,225.3 385.1,228.9 381.7,229.9 352.9,204 437.2,225.6 396.1,194 337.3,204 343.7,230.6 438.4,211.2 368.7,237.6 381.6,238.1 419.3,234.1 356.5,223 388.6,221.4 378.9,214.3 400.3,218.4 373.5,212.1 353,224.2 434.9,209.9 397.6,233.6 383.2,194.6 440.9,201.8 401.9,210.7 431,237.3 355.9,228.4 409.5,230.6 379.2,239.6 382.5,196.1 457,217.9 434.1,230.8 387.7,210.7 400.2,219.6 457.5,215.6 439.7,234.5 377,213.4 459.7,211.6 399.7,194.7 400,204.9 391,198.4 412.4,203.1 380,220.6 398.5,225.6 422.1,235.9 438.1,205.7 399.4,232.1 385.4,238.1 383.9,210.7 437.7,225.3 406.8,210.2 411.3,210.1 431,224.7 457.3,214 422.1,224.9 432.7,234.9 442.8,201 443.4,228.1 472.3,219.2 447.8,230.6 462,219.9 467.4,216.6 465.5,221.9 450.7,188.7 451.3,206.4 442,190.8 398.8,226.6 409.5,240.1 486,206.7 478.8,209.9 430.9,187.7 414.2,205.1 455.4,185.6 463.6,225.3 461,219.4 420.3,213.2 430.3,194.9 463.4,222.4 397.6,235.2 419.4,201.2 459.2,212.1 433.6,228.9 452.2,179.1 474.2,206.6 463.4,199.3 411.6,191.7 471.9,200.3 436.4,188.5 419.5,237.4 430.2,228.9 446.1,191.1 430.9,202.7 396.2,212.1 491,196.9 448.3,206.3 452.8,201.8 446.2,214.6 467.7,186.1 489.7,204.4 434.1,228.2 416.5,190.3 463.2,172.2 452.8,200.9 462.3,225.9 430.8,225.9 463.9,167.5 464,195.7 431.5,179.1 473.7,217 443.9,191.2 436.4,205.6 460.2,204.7 458.5,164.3 492.2,199 442.3,191.7 443,212 484,178.4 446.1,174.2 487.6,214.2 474.9,186.4 451.1,211.4 467,208.4 438,205.2 477.9,177.3 423.4,174.7 492.2,206.7 478,194.7 472.1,220.7 472.4,164.8 434.7,192.7" class="rl"/>
<path d="M365.6 122.1l1.9 3.2h-3.8zM325.2 78.2l1.9 3.2h-3.8zM386.9 121.2l1.9 3.2h-3.8zM333.8 68.2l1.9 3.2h-3.8zM386.4 74l1.9 3.2h-3.8zM361.9 60.7l1.9 3.2h-3.8zM347 91.7l1.9 3.2h-3.8zM338.6 87l1.9 3.2h-3.8zM328.4 103.9l1.9 3.2h-3.8zM344.7 66.7l1.9 3.2h-3.8zM360.5 97.4l1.9 3.2h-3.8zM373.9 58.9l1.9 3.2h-3.8zM342.9 99.6l1.9 3.2h-3.8zM410.8 55.4l1.9 3.2h-3.8zM377.6 81.3l1.9 3.2h-3.8zM387.1 76.3l1.9 3.2h-3.8zM342.4 103.8l1.9 3.2h-3.8zM366 51.6l1.9 3.2h-3.8zM370.9 120.9l1.9 3.2h-3.8zM415.6 66.4l1.9 3.2h-3.8zM323.3 78.1l1.9 3.2h-3.8zM364.6 86.6l1.9 3.2h-3.8zM355 89.8l1.9 3.2h-3.8zM359.7 64.4l1.9 3.2h-3.8zM362.9 82.1l1.9 3.2h-3.8zM315.3 66.3l1.9 3.2h-3.8zM312.2 90.1l1.9 3.2h-3.8zM344.5 87.1l1.9 3.2h-3.8zM342.1 81.8l1.9 3.2h-3.8zM370.8 56.1l1.9 3.2h-3.8zM394.6 69.8l1.9 3.2h-3.8zM331 45.6l1.9 3.2h-3.8zM364.6 75.8l1.9 3.2h-3.8zM361 107.2l1.9 3.2h-3.8zM332.8 73.6l1.9 3.2h-3.8zM418.3 98.4l1.9 3.2h-3.8zM405.8 38.2l1.9 3.2h-3.8zM389.7 49l1.9 3.2h-3.8zM360.3 62l1.9 3.2h-3.8zM385.9 69l1.9 3.2h-3.8zM434.3 59.4l1.9 3.2h-3.8zM422.1 49.5l1.9 3.2h-3.8zM335.4 70.9l1.9 3.2h-3.8zM386.4 50.3l1.9 3.2h-3.8zM412.5 42l1.9 3.2h-3.8zM328.8 67.9l1.9 3.2h-3.8zM325.8 93.4l1.9 3.2h-3.8zM412.7 38.6l1.9 3.2h-3.8zM403.9 61.7l1.9 3.2h-3.8zM352.9 101.1l1.9 3.2h-3.8zM424.3 71.1l1.9 3.2h-3.8zM423.5 55.7l1.9 3.2h-3.8zM325.2 61l1.9 3.2h-3.8zM333.2 89.6l1.9 3.2h-3.8zM319.2 47.5l1.9 3.2h-3.8zM372.4 39.7l1.9 3.2h-3.8zM415.2 33.2l1.9 3.2h-3.8zM351.4 68.8l1.9 3.2h-3.8zM352 81.6l1.9 3.2h-3.8zM316.8 58.7l1.9 3.2h-3.8zM431.3 31l1.9 3.2h-3.8zM435.7 34.5l1.9 3.2h-3.8zM349.1 44.9l1.9 3.2h-3.8zM395 32.8l1.9 3.2h-3.8zM316.9 67.5l1.9 3.2h-3.8zM418 48.4l1.9 3.2h-3.8zM422.4 68l1.9 3.2h-3.8zM345.2 82l1.9 3.2h-3.8zM330.9 79.7l1.9 3.2h-3.8zM448.8 74.4l1.9 3.2h-3.8zM325.1 62.2l1.9 3.2h-3.8zM349.5 58.9l1.9 3.2h-3.8zM382 45.6l1.9 3.2h-3.8zM335.1 49.9l1.9 3.2h-3.8zM405.1 70.8l1.9 3.2h-3.8zM357.6 60.4l1.9 3.2h-3.8zM345.8 48.9l1.9 3.2h-3.8zM378.9 82.8l1.9 3.2h-3.8zM443.8 64.9l1.9 3.2h-3.8zM383.1 54.6l1.9 3.2h-3.8zM470.1 70l1.9 3.2h-3.8zM385.3 71.2l1.9 3.2h-3.8zM358.3 73.5l1.9 3.2h-3.8zM461.8 48.3l1.9 3.2h-3.8zM458.5 60.8l1.9 3.2h-3.8zM343.9 61.6l1.9 3.2h-3.8zM377.9 39l1.9 3.2h-3.8zM466.8 65l1.9 3.2h-3.8zM345.4 63.2l1.9 3.2h-3.8zM409.7 32.1l1.9 3.2h-3.8zM457.7 69.9l1.9 3.2h-3.8zM360 50.2l1.9 3.2h-3.8zM358.3 65.1l1.9 3.2h-3.8zM486.2 63.3l1.9 3.2h-3.8zM437.5 52.8l1.9 3.2h-3.8zM437.2 70.8l1.9 3.2h-3.8zM435 65.5l1.9 3.2h-3.8zM428.7 54.2l1.9 3.2h-3.8zM368.9 46.4l1.9 3.2h-3.8zM491.3 48.1l1.9 3.2h-3.8zM461 79.5l1.9 3.2h-3.8zM492.9 52l1.9 3.2h-3.8zM474.1 81.8l1.9 3.2h-3.8zM374.8 65l1.9 3.2h-3.8zM429.7 50.7l1.9 3.2h-3.8zM404 67.2l1.9 3.2h-3.8zM465 33.8l1.9 3.2h-3.8zM393.4 38l1.9 3.2h-3.8zM446.1 50.1l1.9 3.2h-3.8zM385.7 69.4l1.9 3.2h-3.8zM382.4 63.5l1.9 3.2h-3.8zM483.4 37l1.9 3.2h-3.8zM486.1 81.7l1.9 3.2h-3.8zM432.9 36l1.9 3.2h-3.8zM475.5 49.3l1.9 3.2h-3.8zM457.7 36.3l1.9 3.2h-3.8zM386.7 40.3l1.9 3.2h-3.8zM461.9 89.3l1.9 3.2h-3.8zM436.2 56l1.9 3.2h-3.8zM453.2 53.5l1.9 3.2h-3.8zM488.6 74.4l1.9 3.2h-3.8zM480.7 70.1l1.9 3.2h-3.8zM413.2 40.7l1.9 3.2h-3.8zM467.7 83.1l1.9 3.2h-3.8zM462 40.8l1.9 3.2h-3.8zM429.1 33.4l1.9 3.2h-3.8zM482.2 84.5l1.9 3.2h-3.8zM495.9 85.7l1.9 3.2h-3.8zM434.7 41.6l1.9 3.2h-3.8zM423.4 38.1l1.9 3.2h-3.8zM440 61.5l1.9 3.2h-3.8zM475.3 50.3l1.9 3.2h-3.8zM496.2 63.8l1.9 3.2h-3.8zM476.5 99.8l1.9 3.2h-3.8zM442.1 99.7l1.9 3.2h-3.8zM440.9 55.9l1.9 3.2h-3.8zM416 64.1l1.9 3.2h-3.8zM415.6 60.9l1.9 3.2h-3.8zM444.6 59.4l1.9 3.2h-3.8zM462.7 45.6l1.9 3.2h-3.8zM457.6 48.9l1.9 3.2h-3.8zM490.1 63l1.9 3.2h-3.8zM501.1 85.8l1.9 3.2h-3.8zM456.9 45.1l1.9 3.2h-3.8zM437.3 44.3l1.9 3.2h-3.8zM465.6 107.1l1.9 3.2h-3.8zM459 50.4l1.9 3.2h-3.8zM504.1 66.2l1.9 3.2h-3.8zM445.6 58.6l1.9 3.2h-3.8zM487.2 96l1.9 3.2h-3.8zM491.3 56.6l1.9 3.2h-3.8zM425.7 69.1l1.9 3.2h-3.8zM457.9 72.5l1.9 3.2h-3.8zM470.1 97.1l1.9 3.2h-3.8zM496.9 72.3l1.9 3.2h-3.8zM494.6 83.7l1.9 3.2h-3.8zM450.7 68.4l1.9 3.2h-3.8zM435.4 63.1l1.9 3.2h-3.8zM447 64.4l1.9 3.2h-3.8zM463.5 92.5l1.9 3.2h-3.8zM443.8 109.2l1.9 3.2h-3.8zM488.7 111.3l1.9 3.2h-3.8zM441.4 73.1l1.9 3.2h-3.8zM471.9 57.8l1.9 3.2h-3.8zM480.2 67.1l1.9 3.2h-3.8zM480.8 109.8l1.9 3.2h-3.8zM450.2 82.7l1.9 3.2h-3.8zM490.1 81.4l1.9 3.2h-3.8zM457.8 109.8l1.9 3.2h-3.8zM502.6 67.2l1.9 3.2h-3.8zM501.7 69.2l1.9 3.2h-3.8zM493.2 120l1.9 3.2h-3.8zM493.8 77.5l1.9 3.2h-3.8zM429.5 79.3l1.9 3.2h-3.8zM501.8 66.5l1.9 3.2h-3.8zM475.7 129.3l1.9 3.2h-3.8zM444.5 96.3l1.9 3.2h-3.8zM497.8 76.3l1.9 3.2h-3.8zM442 102.1l1.9 3.2h-3.8zM456.5 121.8l1.9 3.2h-3.8zM428.1 108.2l1.9 3.2h-3.8zM449.9 118.2l1.9 3.2h-3.8zM456.3 70.9l1.9 3.2h-3.8zM470.7 84.3l1.9 3.2h-3.8zM495.1 82.2l1.9 3.2h-3.8zM444.3 116l1.9 3.2h-3.8zM494 78l1.9 3.2h-3.8zM445 92.8l1.9 3.2h-3.8zM496 82.2l1.9 3.2h-3.8zM496.9 93.2l1.9 3.2h-3.8zM466 91.5l1.9 3.2h-3.8zM471.3 130.2l1.9 3.2h-3.8zM478.1 78.3l1.9 3.2h-3.8zM436.7 122.5l1.9 3.2h-3.8zM450.1 96.4l1.9 3.2h-3.8zM462.1 142.4l1.9 3.2h-3.8zM482.4 96.6l1.9 3.2h-3.8zM458.7 120.2l1.9 3.2h-3.8zM426.9 133.1l1.9 3.2h-3.8zM447.8 119.5l1.9 3.2h-3.8zM484.6 124.8l1.9 3.2h-3.8zM473.6 129.4l1.9 3.2h-3.8zM459.1 109.1l1.9 3.2h-3.8zM444 106l1.9 3.2h-3.8zM501.9 87.7l1.9 3.2h-3.8zM468.4 98.3l1.9 3.2h-3.8zM441.7 118.1l1.9 3.2h-3.8zM483.7 98.5l1.9 3.2h-3.8zM449 124.5l1.9 3.2h-3.8zM443.1 115.3l1.9 3.2h-3.8zM437.4 110.5l1.9 3.2h-3.8zM480.4 106.3l1.9 3.2h-3.8zM476.5 113.1l1.9 3.2h-3.8zM441.1 111.4l1.9 3.2h-3.8zM479.6 131.6l1.9 3.2h-3.8zM475.7 124.2l1.9 3.2h-3.8zM433.1 147.5l1.9 3.2h-3.8zM447.9 101.9l1.9 3.2h-3.8zM418.4 125.7l1.9 3.2h-3.8zM441.1 122.6l1.9 3.2h-3.8zM405 133.1l1.9 3.2h-3.8zM407 115.4l1.9 3.2h-3.8zM411 138.5l1.9 3.2h-3.8zM477.4 132.8l1.9 3.2h-3.8zM455 101.3l1.9 3.2h-3.8zM474.4 116.1l1.9 3.2h-3.8zM444.9 122.9l1.9 3.2h-3.8zM421.3 124l1.9 3.2h-3.8zM453 139.9l1.9 3.2h-3.8zM482.5 124.1l1.9 3.2h-3.8zM433.5 145l1.9 3.2h-3.8zM439.1 102.5l1.9 3.2h-3.8zM419.7 129.3l1.9 3.2h-3.8zM436.9 120l1.9 3.2h-3.8zM453.4 119.9l1.9 3.2h-3.8zM400 141.9l1.9 3.2h-3.8zM406.8 144l1.9 3.2h-3.8zM486.9 115.2l1.9 3.2h-3.8zM433.4 133.6l1.9 3.2h-3.8zM444.4 114l1.9 3.2h-3.8zM400.1 129l1.9 3.2h-3.8zM415.4 113.6l1.9 3.2h-3.8zM388.8 131.3l1.9 3.2h-3.8zM464.2 122.1l1.9 3.2h-3.8zM445.7 127.1l1.9 3.2h-3.8zM459.7 102.8l1.9 3.2h-3.8zM469.4 103.8l1.9 3.2h-3.8zM435 102.2l1.9 3.2h-3.8zM479.9 114.1l1.9 3.2h-3.8zM450.9 127l1.9 3.2h-3.8zM434.6 120.2l1.9 3.2h-3.8zM465.6 111.1l1.9 3.2h-3.8zM459.2 113.8l1.9 3.2h-3.8zM444.9 161.2l1.9 3.2h-3.8zM486.4 118.2l1.9 3.2h-3.8zM407 113.7l1.9 3.2h-3.8zM429 123l1.9 3.2h-3.8zM462.9 111.9l1.9 3.2h-3.8zM404.2 115.5l1.9 3.2h-3.8zM445.9 149.5l1.9 3.2h-3.8zM428.2 149.9l1.9 3.2h-3.8zM429.4 147.9l1.9 3.2h-3.8zM396.9 117.4l1.9 3.2h-3.8zM460.9 114.3l1.9 3.2h-3.8zM407.1 137.2l1.9 3.2h-3.8zM440.7 169.3l1.9 3.2h-3.8zM440.3 148l1.9 3.2h-3.8zM440.8 171.3l1.9 3.2h-3.8zM405.4 114.9l1.9 3.2h-3.8zM461.2 131.3l1.9 3.2h-3.8zM357.3 141.2l1.9 3.2h-3.8zM450.1 160.3l1.9 3.2h-3.8zM464.7 125.2l1.9 3.2h-3.8zM401.4 141.1l1.9 3.2h-3.8zM399.9 121.4l1.9 3.2h-3.8zM415.3 139.4l1.9 3.2h-3.8zM360.7 127.3l1.9 3.2h-3.8zM471.7 130.6l1.9 3.2h-3.8zM416.4 134.1l1.9 3.2h-3.8zM456.6 132.7l1.9 3.2h-3.8zM365 137.4l1.9 3.2h-3.8zM355.1 144.4l1.9 3.2h-3.8zM408.8 123.3l1.9 3.2h-3.8zM392.8 120.3l1.9 3.2h-3.8zM395.3 115.4l1.9 3.2h-3.8zM402.7 181.3l1.9 3.2h-3.8zM353.3 149l1.9 3.2h-3.8zM420.3 143.6l1.9 3.2h-3.8zM444 161.8l1.9 3.2h-3.8zM394.1 182.2l1.9 3.2h-3.8zM355 150.4l1.9 3.2h-3.8zM417.9 135l1.9 3.2h-3.8zM392.4 136.2l1.9 3.2h-3.8zM398.7 156.1l1.9 3.2h-3.8zM380.8 146.6l1.9 3.2h-3.8zM371.5 135.5l1.9 3.2h-3.8zM421 173.6l1.9 3.2h-3.8zM344.4 159.9l1.9 3.2h-3.8zM448.4 165.4l1.9 3.2h-3.8zM450.1 171l1.9 3.2h-3.8zM402.8 131.5l1.9 3.2h-3.8zM421.3 167.5l1.9 3.2h-3.8zM332.3 163.6l1.9 3.2h-3.8zM394 121.4l1.9 3.2h-3.8zM378 137.4l1.9 3.2h-3.8zM361 168.5l1.9 3.2h-3.8zM361.8 165.2l1.9 3.2h-3.8zM386.1 132l1.9 3.2h-3.8zM385.7 144.5l1.9 3.2h-3.8zM382.9 187.7l1.9 3.2h-3.8zM369.1 135.5l1.9 3.2h-3.8zM446.7 150.2l1.9 3.2h-3.8zM380.3 186.5l1.9 3.2h-3.8zM438.9 164l1.9 3.2h-3.8zM351.1 129.5l1.9 3.2h-3.8zM338.8 136.6l1.9 3.2h-3.8zM391.8 126.4l1.9 3.2h-3.8zM345.4 160.4l1.9 3.2h-3.8zM377.5 186.2l1.9 3.2h-3.8zM393.6 182.2l1.9 3.2h-3.8zM350.7 173.2l1.9 3.2h-3.8zM377.5 139.9l1.9 3.2h-3.8zM397 144.7l1.9 3.2h-3.8zM390.6 184.9l1.9 3.2h-3.8zM394.4 177.6l1.9 3.2h-3.8zM366.5 142.3l1.9 3.2h-3.8zM396.6 178.7l1.9 3.2h-3.8zM359.3 171.7l1.9 3.2h-3.8zM357.4 160.1l1.9 3.2h-3.8zM370.6 142.5l1.9 3.2h-3.8zM367.5 137.8l1.9 3.2h-3.8zM411.6 151.6l1.9 3.2h-3.8zM316.4 167.6l1.9 3.2h-3.8zM362.4 164.4l1.9 3.2h-3.8zM369.1 181.3l1.9 3.2h-3.8zM406.7 190.9l1.9 3.2h-3.8zM318.2 189.1l1.9 3.2h-3.8zM388.9 188.4l1.9 3.2h-3.8zM381.2 188.7l1.9 3.2h-3.8zM356.5 199.8l1.9 3.2h-3.8zM331.4 159.5l1.9 3.2h-3.8zM340.5 156.1l1.9 3.2h-3.8zM396.5 146.4l1.9 3.2h-3.8zM361.4 186.7l1.9 3.2h-3.8zM416.8 175.4l1.9 3.2h-3.8zM412.4 162.6l1.9 3.2h-3.8zM344.8 148.4l1.9 3.2h-3.8zM405.8 182.3l1.9 3.2h-3.8zM337.2 156.5l1.9 3.2h-3.8zM344.3 188.1l1.9 3.2h-3.8zM314.9 168.5l1.9 3.2h-3.8zM311.3 189.5l1.9 3.2h-3.8zM322 177l1.9 3.2h-3.8zM303.6 177.3l1.9 3.2h-3.8zM337.6 201.6l1.9 3.2h-3.8zM392.6 190.8l1.9 3.2h-3.8zM329.2 175.7l1.9 3.2h-3.8zM406.5 176.2l1.9 3.2h-3.8zM338.1 203l1.9 3.2h-3.8zM412.5 184.8l1.9 3.2h-3.8zM339.5 173l1.9 3.2h-3.8zM361.5 174.2l1.9 3.2h-3.8zM358.3 182.8l1.9 3.2h-3.8zM410.6 174l1.9 3.2h-3.8zM306.7 186.9l1.9 3.2h-3.8zM351.3 215.6l1.9 3.2h-3.8zM363.5 191.1l1.9 3.2h-3.8zM332.1 213.5l1.9 3.2h-3.8zM390.1 203.7l1.9 3.2h-3.8zM334.2 197.4l1.9 3.2h-3.8zM359.1 177.1l1.9 3.2h-3.8zM355.1 164.9l1.9 3.2h-3.8zM352.9 216.2l1.9 3.2h-3.8zM386.7 198.8l1.9 3.2h-3.8zM309.6 217.8l1.9 3.2h-3.8zM396.8 213.2l1.9 3.2h-3.8zM332.2 175.1l1.9 3.2h-3.8zM354.2 197.6l1.9 3.2h-3.8zM379.4 217.2l1.9 3.2h-3.8zM357.3 186.5l1.9 3.2h-3.8zM409.6 189.3l1.9 3.2h-3.8zM309.4 189.3l1.9 3.2h-3.8zM367.4 213.6l1.9 3.2h-3.8zM341.1 192.7l1.9 3.2h-3.8zM327.6 195.6l1.9 3.2h-3.8zM395 200.1l1.9 3.2h-3.8zM386.7 188.8l1.9 3.2h-3.8zM328.8 198.2l1.9 3.2h-3.8zM391.3 184l1.9 3.2h-3.8zM394.7 179.5l1.9 3.2h-3.8zM315.4 190.1l1.9 3.2h-3.8zM396.9 201.6l1.9 3.2h-3.8zM408 225.1l1.9 3.2h-3.8zM409.4 227.2l1.9 3.2h-3.8zM419.8 205.2l1.9 3.2h-3.8zM392.2 195.8l1.9 3.2h-3.8zM413.2 223.9l1.9 3.2h-3.8zM358 177.3l1.9 3.2h-3.8zM336.8 231.8l1.9 3.2h-3.8zM318.3 196.8l1.9 3.2h-3.8zM377.1 182.6l1.9 3.2h-3.8zM379 217.4l1.9 3.2h-3.8zM333 187.2l1.9 3.2h-3.8zM415.3 214l1.9 3.2h-3.8zM364.9 226.2l1.9 3.2h-3.8zM399.3 231.7l1.9 3.2h-3.8zM358.5 224.8l1.9 3.2h-3.8zM404.1 210.8l1.9 3.2h-3.8zM331.9 190.9l1.9 3.2h-3.8zM350.5 189.4l1.9 3.2h-3.8zM392.7 186l1.9 3.2h-3.8zM412.6 198l1.9 3.2h-3.8zM396.6 223.4l1.9 3.2h-3.8zM385.1 227l1.9 3.2h-3.8zM381.7 228l1.9 3.2h-3.8zM352.9 202.1l1.9 3.2h-3.8zM437.2 223.7l1.9 3.2h-3.8zM396.1 192.1l1.9 3.2h-3.8zM337.3 202.1l1.9 3.2h-3.8zM343.7 228.7l1.9 3.2h-3.8zM438.4 209.3l1.9 3.2h-3.8zM368.7 235.7l1.9 3.2h-3.8zM381.6 236.2l1.9 3.2h-3.8zM419.3 232.2l1.9 3.2h-3.8zM356.5 221.1l1.9 3.2h-3.8zM388.6 219.5l1.9 3.2h-3.8zM378.9 212.4l1.9 3.2h-3.8zM400.3 216.5l1.9 3.2h-3.8zM373.5 210.2l1.9 3.2h-3.8zM353 222.3l1.9 3.2h-3.8zM434.9 208l1.9 3.2h-3.8zM397.6 231.7l1.9 3.2h-3.8zM383.2 192.7l1.9 3.2h-3.8zM440.9 199.9l1.9 3.2h-3.8zM401.9 208.8l1.9 3.2h-3.8zM431 235.4l1.9 3.2h-3.8zM355.9 226.5l1.9 3.2h-3.8zM409.5 228.7l1.9 3.2h-3.8zM379.2 237.7l1.9 3.2h-3.8zM382.5 194.2l1.9 3.2h-3.8zM457 216l1.9 3.2h-3.8zM434.1 228.9l1.9 3.2h-3.8zM387.7 208.8l1.9 3.2h-3.8zM400.2 217.7l1.9 3.2h-3.8zM457.5 213.7l1.9 3.2h-3.8zM439.7 232.6l1.9 3.2h-3.8zM377 211.5l1.9 3.2h-3.8zM459.7 209.7l1.9 3.2h-3.8zM399.7 192.8l1.9 3.2h-3.8zM400 203l1.9 3.2h-3.8zM391 196.5l1.9 3.2h-3.8zM412.4 201.2l1.9 3.2h-3.8zM380 218.7l1.9 3.2h-3.8zM398.5 223.7l1.9 3.2h-3.8zM422.1 234l1.9 3.2h-3.8zM438.1 203.8l1.9 3.2h-3.8zM399.4 230.2l1.9 3.2h-3.8zM385.4 236.2l1.9 3.2h-3.8zM383.9 208.8l1.9 3.2h-3.8zM437.7 223.4l1.9 3.2h-3.8zM406.8 208.3l1.9 3.2h-3.8zM411.3 208.2l1.9 3.2h-3.8zM431 222.8l1.9 3.2h-3.8zM457.3 212.1l1.9 3.2h-3.8zM422.1 223l1.9 3.2h-3.8zM432.7 233l1.9 3.2h-3.8zM442.8 199.1l1.9 3.2h-3.8zM443.4 226.2l1.9 3.2h-3.8zM472.3 217.3l1.9 3.2h-3.8zM447.8 228.7l1.9 3.2h-3.8zM462 218l1.9 3.2h-3.8zM467.4 214.7l1.9 3.2h-3.8zM465.5 220l1.9 3.2h-3.8zM450.7 186.8l1.9 3.2h-3.8zM451.3 204.5l1.9 3.2h-3.8zM442 188.9l1.9 3.2h-3.8zM398.8 224.7l1.9 3.2h-3.8zM409.5 238.2l1.9 3.2h-3.8zM486 204.8l1.9 3.2h-3.8zM478.8 208l1.9 3.2h-3.8zM430.9 185.8l1.9 3.2h-3.8zM414.2 203.2l1.9 3.2h-3.8zM455.4 183.7l1.9 3.2h-3.8zM463.6 223.4l1.9 3.2h-3.8zM461 217.5l1.9 3.2h-3.8zM420.3 211.3l1.9 3.2h-3.8zM430.3 193l1.9 3.2h-3.8zM463.4 220.5l1.9 3.2h-3.8zM397.6 233.3l1.9 3.2h-3.8zM419.4 199.3l1.9 3.2h-3.8zM459.2 210.2l1.9 3.2h-3.8zM433.6 227l1.9 3.2h-3.8zM452.2 177.2l1.9 3.2h-3.8zM474.2 204.7l1.9 3.2h-3.8zM463.4 197.4l1.9 3.2h-3.8zM411.6 189.8l1.9 3.2h-3.8zM471.9 198.4l1.9 3.2h-3.8zM436.4 186.6l1.9 3.2h-3.8zM419.5 235.5l1.9 3.2h-3.8zM430.2 227l1.9 3.2h-3.8zM446.1 189.2l1.9 3.2h-3.8zM430.9 200.8l1.9 3.2h-3.8zM396.2 210.2l1.9 3.2h-3.8zM491 195l1.9 3.2h-3.8zM448.3 204.4l1.9 3.2h-3.8zM452.8 199.9l1.9 3.2h-3.8zM446.2 212.7l1.9 3.2h-3.8zM467.7 184.2l1.9 3.2h-3.8zM489.7 202.5l1.9 3.2h-3.8zM434.1 226.3l1.9 3.2h-3.8zM416.5 188.4l1.9 3.2h-3.8zM463.2 170.3l1.9 3.2h-3.8zM452.8 199l1.9 3.2h-3.8zM462.3 224l1.9 3.2h-3.8zM430.8 224l1.9 3.2h-3.8zM463.9 165.6l1.9 3.2h-3.8zM464 193.8l1.9 3.2h-3.8zM431.5 177.2l1.9 3.2h-3.8zM473.7 215.1l1.9 3.2h-3.8zM443.9 189.3l1.9 3.2h-3.8zM436.4 203.7l1.9 3.2h-3.8zM460.2 202.8l1.9 3.2h-3.8zM458.5 162.4l1.9 3.2h-3.8zM492.2 197.1l1.9 3.2h-3.8zM442.3 189.8l1.9 3.2h-3.8zM443 210.1l1.9 3.2h-3.8zM484 176.5l1.9 3.2h-3.8zM446.1 172.3l1.9 3.2h-3.8zM487.6 212.3l1.9 3.2h-3.8zM474.9 184.5l1.9 3.2h-3.8zM451.1 209.5l1.9 3.2h-3.8zM467 206.5l1.9 3.2h-3.8zM438 203.3l1.9 3.2h-3.8zM477.9 175.4l1.9 3.2h-3.8zM423.4 172.8l1.9 3.2h-3.8zM492.2 204.8l1.9 3.2h-3.8zM478 192.8l1.9 3.2h-3.8zM472.1 218.8l1.9 3.2h-3.8zM472.4 162.9l1.9 3.2h-3.8zM434.7 190.8l1.9 3.2h-3.8z" class="rt"/>
<polyline points="348.2,109.2 344.1,116.4 368.3,110.3 369.1,110.7 362.8,103.6 368.7,108.4 355.2,102.4 361.3,116.1 360.5,100.9 346.6,108.7 363.3,102.9 363,105.7 344.9,92.8 359.8,106.8 366.9,107.1 366.3,104.2 356.2,94.4 362.4,96.4 371.2,98.2 365.8,97.2 378.5,93.6 371.5,92.7 368.8,98.9 363.9,88.3 370.5,97 366.6,94.2 365.2,111 364.3,83.3 354.1,98.3 354.5,97.1 366.4,94.2 370.8,98.2 367.4,91.2 365.4,77.7 380.9,82 375.2,96.3 373.7,84.2 384,82.4 381.6,96.5 365.5,92.9 368.1,91.5 361.6,98.4 380.8,88.3 375,95.6 379,89.5 374.7,85.1 375.6,82.2 380.6,94.7 381.6,89.7 381.2,96.7 376.1,76 363.4,81.5 382.8,87.9 373.6,79.9 388.2,76.3 376.3,80.6 375.5,82.2 371.4,78.9 379,83.9 385.1,80.7 377.4,84.1 382.2,82.2 375.5,74.5 380.4,81.6 378.8,75 381.8,79 383.6,81 380.4,83.8 385.2,70 388.8,73 381.8,78.4 384.7,70.9 388.8,77.7 391.3,69.4 395.8,75.1 391.3,67 385.7,71.8 389.6,78.5 391.4,71.6 397.6,78.1 395.9,69.3 384.6,61.6 391.4,69.6 397.3,77.3 392,68.9 394.9,62.3 395.8,74.8 409.2,65.1 401.3,77.6 392.7,70 405.2,68.3 397.9,71.7 406.2,72.3 398.6,73.2 396.8,64.8 400.5,69.3 403.1,70.5 400.6,62.1 395.1,67.9 407.6,65.4 402.2,71.4 399.3,71.4 403.6,66.3 409,65.5 411.7,63.7 404.3,66 411.5,63.5 410.6,68.9 415.4,65 412.1,70.2 419.1,66.1 413.8,67.1 396.3,66.4 411.3,61.1 407.6,64.4 412.8,64.8 411.3,65.3 419.8,64.8 421.9,71.3 421.8,63.5 414.6,54.6 417.5,63.4 413.4,55.4 421,68.4 417.8,67.6 416.9,56.3 419.1,62.3 417.6,63.6 415.6,57.7 425.3,64.4 423.6,59.5 412.3,58 427.6,65.9 412.9,61 419.9,64 433.9,61.6 426.3,63.3 423.9,60 424.4,66.2 432.5,66.9 423.7,61.3 431.3,63.4 424.6,62 441.1,63.5 433.3,67.7 430.2,71 432,67.2 429.9,66.9 435.6,66.9 431.8,62 438,67.5 430.8,64.8 437.8,68.9 428.8,59 443.1,66.2 442.9,65.1 438.3,66.3 447.3,60.4 440,69.8 447.8,61.7 451.5,67.7 448.7,64.9 439.4,65.7 440.9,60.9 442.2,65.5 440.9,63.4 444.6,62.9 447.8,70.4 438.6,66.5 453.1,70.7 439.2,62.4 451.2,71.4 448.2,63.1 456.1,65.4 441.6,67.3 456,71.6 455.5,65.8 443.5,69.5 453,70.7 460.5,67.5 452.5,68 460.9,67.3 452.9,69.2 452.5,68.2 457.3,71.4 451.4,69.3 457.7,74.7 458.1,75.9 462.6,73.9 460.2,70.4 466.9,71 464.9,70.3 472,68.6 466.4,74.7 464,74.1 453.7,72.9 470.3,73.6 457.2,70.9 468.8,79.3 460.4,76.6 461.6,77 467.2,82.8 469.4,78.9 466.7,68.2 466.8,74.7 465.1,75.6 459.1,74 469.4,84.2 468,75.3 468.3,68.1 466.8,82.9 471.7,70.7 474.8,79 474.4,79.7 469.8,71.6 470.1,75.1 472,83.6 476.2,83.7 475.9,74.3 474,86.5 480,73.1 470,83 490.9,82.7 476.1,85.8 479.8,77.4 474.4,84 472.7,79.5 478.8,87.5 479.5,83.7 478.4,85.7 472.3,81.2 484.2,93.7 481.3,88.7 479.3,90.6 477.8,87.9 472.5,87.8 475.1,83.2 477.9,88 483.9,99.1 483,96.5 489.5,88.9 474.9,94.3 478.6,94.3 486.2,95.8 472.3,104.6 475.9,90.6 486.5,91.8 475.4,96.2 477.5,98.2 486.6,98.1 479.9,101.8 483.1,110.2 477.1,103.7 480.2,101.5 471.9,95.7 475.3,94.2 477.9,107.9 472.8,107.3 479.5,102.6 474,105.4 486.6,102 480.1,104.8 478.1,102.4 485.3,109.8 476.4,111.8 474.9,107.6 471.8,100.8 476.9,115.6 478.6,113.1 486,110.8 475,111 475,112.7 475.3,116.8 481.4,112.5 478.3,114.5 475.3,113.5 480.7,110.9 475.2,113.3 465.8,119.6 472.7,120.6 464.7,107.3 471.7,116.2 477.3,119.5 481.1,117.2 483.8,120.7 463.5,114.8 469.5,117.9 470.6,119.7 475.9,113.4 469.6,126.5 480.5,127.3 470.3,125.6 473.1,114.5 468.2,124 467.6,118.3 462.9,123.8 469,120.4 476.6,120.9 464.7,123.4 463.8,123.2 458.1,133.3 470.4,125.8 462,124.2 467.6,122.6 467.7,128 460.7,122.9 465.3,135.1 461.9,130.3 461.9,123.7 467,126.1 469.3,125.1 451.4,129.1 463.6,131.5 459,123.9 463.2,125 469.8,127 457.5,128.4 461.5,137.7 457.8,132.3 450.3,134.5 445.1,135 456.9,127.8 458.8,134.1 462.3,138.2 455.3,133.2 445.2,136 446.6,130.2 445.1,130.5 453.9,129.4 449.9,128.8 451.2,137.4 449.2,133.7 443.4,137.1 453.9,133.2 447.5,132.5 441.1,134.1 437.4,140.2 453.1,139.2 445.3,135.7 443.6,131.6 444.8,136.3 446.6,142.8 444.6,142.6 446.7,133.9 443.6,138.2 442.9,140.2 442.9,137.2 442.4,137.5 435.9,138.8 432.7,140.7 442.6,138.3 444.7,142.4 437.9,141.9 441.2,137.8 438.4,142.4 438.1,138.4 440.2,132.1 432.4,140.3 440.5,134.7 426.8,136.2 430.7,137.5 426.3,144 432.7,140.6 426.2,139.8 427.8,149.2 423.3,139.4 425.1,140.7 430.5,136.4 421.6,146.2 426.8,147.6 421.8,136.3 421.8,139.8 426.9,139.6 423.6,145.4 423.2,141.2 420.5,143.5 424.5,138.9 414.3,149.6 413.2,141.8 415.5,148.3 420,149 424.4,141.4 418.6,138.6 414.7,147.9 419.3,146.5 416.4,144 418.8,146.7 415.5,150.1 412.3,153.9 412.7,153.4 413.9,145.5 412.3,150.1 414.5,150.4 412.9,147.2 408.2,145.7 410,140.9 411.6,148.6 408.2,146.1 408.4,151.9 402.6,146.1 405.5,150.9 400.8,153.1 397.4,156.3 399.9,145.7 402.9,144.9 404.2,147.5 410.7,151.3 407.1,152 407.5,153.9 396.4,149.9 404,153.3 391.5,148.7 393.2,146.3 400.8,152.5 389.1,147.5 404,156.8 402.1,148.5 398.7,157 395.6,152.9 392.3,155.9 398.9,161.9 395.1,154.1 387,159.3 391,159.9 389,155.4 395.3,156.4 379.9,155.9 392.6,164.6 397.3,161.9 393.5,162.1 390.2,151.6 386.6,157.6 386.8,155.4 386.1,163.9 374.5,153 387.7,155.8 394.2,163.2 387.4,154.2 386,156.7 376.8,155.3 385.9,160.2 383.1,165.5 378,157.5 386.1,162.5 378.1,160 377.9,158 379.9,157.8 384.5,159.8 378.8,162.4 384.7,158 369.3,159.5 377.2,152.3 365.3,168.3 376.5,161.3 374.2,162.6 375,163.8 377.7,165.2 375.4,160.4 366.7,163 376.2,158.4 372.9,159.7 370.2,168.5 364.1,163.6 366.7,168.4 371.9,160.7 364.5,166.7 367.4,163.1 372.4,163.7 369.6,167.5 366,162.9 362.2,174.6 368.9,162.5 367.4,162.6 370.2,164.5 373.5,173.5 368.6,166.1 365.4,165.7 362.6,166.1 362.8,175 366.8,164.7 358.3,168.9 368.1,167.5 365.2,174.3 365.7,174.1 359.2,179.1 367,174.1 360,172.7 359.3,181.7 356.4,183.6 354.8,176.9 356.8,178.4 371.3,174.8 365.5,172.9 361.2,189.6 360.9,173.6 356.7,180.8 353.5,187.7 361.9,178.7 361.1,184.6 350,189.4 362.3,177.4 363,185 360.6,184.4 351.3,184.9 363.8,178 355.9,184.3 359.1,181.2 358.3,186.1 359,187.5 351,189.2 357.5,190.4 363,189.1 357.5,193.7 363.1,189.8 354.1,191 351.4,188.4 359.8,195.5 361.1,199.3 352.5,193.7 352.4,194.3 362.2,190.7 361.9,193.4 358.6,204.8 361.7,192.2 356.8,202.8 350.6,193.9 357,193.9 350.5,198.9 362.6,202 362.3,202.1 358.7,204.3 355.4,201.2 357.5,201.8 353,201 356.6,207.1 355.4,207 356.3,211.2 354.6,193.1 363.1,207.7 362,211.8 366.1,205.2 357.8,208.9 356.8,204.4 359.7,212.6 367.5,209.6 366.7,206.4 362.3,212.7 358.8,214.2 363.6,211.8 366.8,204.5 367.9,211.3 357,210.7 367.6,203.5 366.5,203.9 362.9,212.1 374.6,214.6 368.9,216.7 371.5,214 370.4,216.8 367.4,218.9 371.8,218.6 374.3,212.5 367,215.8 367.5,213.8 372,216.7 376.9,209.2 376.3,213.2 382.3,219.5 377.2,219.4 377,216.7 374.2,221.9 371.2,216.3 375.5,219.9 376.8,223 371.2,214.9 380.9,222.9 382.6,227 382.3,216.6 372.9,218 379.8,222 378.1,218.8 379,221.1 384,222 387,222.7 386.7,226.5 395.9,221.8 378.9,217.1 391.2,216 385.6,226.8 378.7,223.6 391.4,224.2 388.2,215.2 389.8,217.6 386.5,223.7 394.6,225 396,219.6 395.1,224 390.5,222.8 396.9,228.5 387.6,230.3 390.9,224.8 395,223.6 385.7,223.4 397.5,223.8 399.1,225.4 398.8,228.6 408.6,228 404.8,225 401.6,221.6 403.8,229.6 395.6,228.8 403.4,229.6 404,225.5 397.5,226 404.8,222.3 400,217.8 403.2,228.6 408.7,219.5 406.1,221.9 412.2,222.1 400.1,230.3 403.3,225.6 400,234 401.8,222.9 404.4,226.2 403.2,225.5 412.1,235.1 420.1,224.3 413.1,225.2 404.4,222.6 412.1,224.6 412.9,230.1 417.9,227.4 412.2,225.6 420.1,228.4 408.9,228 415.3,224.9 421.1,226 415,227.2 414.2,226.7 413.6,228.9 413.1,226.6 414.3,229.3 422.6,223.3 422.4,228.4 418.5,223.4 427.2,217.3 412.2,225.5 421.4,217.9 420.4,226.5 427.2,219 432.3,225.3 424.2,227.4 431.2,222.9 424.8,227.1 436.2,224.4 423.2,220.6 438.1,219.7 431.6,222.9 430.7,224.9 433,220 436.4,224.2 441.9,229.8 429.2,220.8 436,225.4 429.5,214.6 440,218.5 436.2,219.5 432.4,224.4 429.9,224.2 443.9,220.5 437.8,215 438.6,218.9 437,217.9 439.3,220.2 440,214.6 442.9,214.2 444.9,219.2 446.2,223.7 450.1,217.1 442.8,217.3 461.9,216.4 444.8,214.5 447.6,216.8 450.3,216 445.1,223.2 448.7,216.2 445.6,211.7 441.3,216.1 441.4,209.4 445.8,212.2 435.8,213.1 447.3,219 450.2,205.6 459.5,212 447.7,213.8 446.2,216.3 443.2,206.3 451.1,211.7 455.4,207.7 449.5,205.1 455,212.9 443.8,210.1 459.1,209.3 452.1,211.2 460.9,208.5 453.2,209.8 468.7,211.4 463,201.9 457,207.9 460.1,206.5 449.9,204.3 464,215.8 463.6,205.1 466.2,205.9 462.1,206.4 464,209.3 467.6,205.8 462.6,202.3 468.1,201 460.6,205.3 453.9,205.3 466.6,199.6 463.4,200.4 469.8,200 469.3,203.5 466.4,204.9 465.6,210.1 470.1,200.3 462.1,197.2 466.4,195.7 468.4,204.8 472.8,202.7 470.1,194.3 468.5,194.3 471.7,197.8 480.9,191 475.3,195.2 472.8,192 480.8,195.7 477.4,200.8 473.6,192.8 475.3,191 468.1,195.1 475.3,187.2 474.9,188 465.3,189.4 473.7,188.6 471.8,192.8 478.9,189.3 463.8,186.3 463.3,181.1 466.8,188.6 480,188.2 479.6,191.8 463.3,183.2" class="yl"/>
<path d="M348.2 109.2h0M344.1 116.4h0M368.3 110.3h0M369.1 110.7h0M362.8 103.6h0M368.7 108.4h0M355.2 102.4h0M361.3 116.1h0M360.5 100.9h0M363 105.7h0M344.9 92.8h0M359.8 106.8h0M366.3 104.2h0M356.2 94.4h0M362.4 96.4h0M371.2 98.2h0M378.5 93.6h0M371.5 92.7h0M368.8 98.9h0M363.9 88.3h0M370.5 97h0M366.6 94.2h0M365.2 111h0M367.4 91.2h0M365.4 77.7h0M375.2 96.3h0M384 82.4h0M381.6 96.5h0M365.5 92.9h0M368.1 91.5h0M361.6 98.4h0M380.8 88.3h0M375 95.6h0M379 89.5h0M374.7 85.1h0M380.6 94.7h0M381.6 89.7h0M373.6 79.9h0M388.2 76.3h0M375.5 82.2h0M371.4 78.9h0M379 83.9h0M385.1 80.7h0M377.4 84.1h0M382.2 82.2h0M375.5 74.5h0M380.4 81.6h0M381.8 79h0M383.6 81h0M380.4 83.8h0M385.2 70h0M388.8 73h0M381.8 78.4h0M384.7 70.9h0M391.3 69.4h0M395.8 75.1h0M391.3 67h0M385.7 71.8h0M389.6 78.5h0M391.4 71.6h0M397.6 78.1h0M395.9 69.3h0M384.6 61.6h0M391.4 69.6h0M397.3 77.3h0M392 68.9h0M394.9 62.3h0M395.8 74.8h0M409.2 65.1h0M392.7 70h0M405.2 68.3h0M396.8 64.8h0M400.5 69.3h0M403.1 70.5h0M395.1 67.9h0M407.6 65.4h0M399.3 71.4h0M403.6 66.3h0M409 65.5h0M404.3 66h0M411.5 63.5h0M410.6 68.9h0M415.4 65h0M412.1 70.2h0M419.1 66.1h0M413.8 67.1h0M407.6 64.4h0M412.8 64.8h0M411.3 65.3h0M419.8 64.8h0M421.9 71.3h0M421.8 63.5h0M414.6 54.6h0M417.8 67.6h0M416.9 56.3h0M419.1 62.3h0M417.6 63.6h0M415.6 57.7h0M425.3 64.4h0M427.6 65.9h0M419.9 64h0M433.9 61.6h0M426.3 63.3h0M423.9 60h0M424.4 66.2h0M432.5 66.9h0M423.7 61.3h0M431.3 63.4h0M441.1 63.5h0M433.3 67.7h0M432 67.2h0M429.9 66.9h0M431.8 62h0M438 67.5h0M430.8 64.8h0M437.8 68.9h0M428.8 59h0M443.1 66.2h0M442.9 65.1h0M440 69.8h0M448.7 64.9h0M439.4 65.7h0M440.9 60.9h0M442.2 65.5h0M440.9 63.4h0M444.6 62.9h0M447.8 70.4h0M439.2 62.4h0M451.2 71.4h0M448.2 63.1h0M456.1 65.4h0M441.6 67.3h0M456 71.6h0M455.5 65.8h0M460.5 67.5h0M452.5 68h0M460.9 67.3h0M452.9 69.2h0M452.5 68.2h0M451.4 69.3h0M457.7 74.7h0M458.1 75.9h0M462.6 73.9h0M472 68.6h0M466.4 74.7h0M464 74.1h0M470.3 73.6h0M457.2 70.9h0M468.8 79.3h0M461.6 77h0M466.8 74.7h0M465.1 75.6h0M459.1 74h0M468 75.3h0M468.3 68.1h0M466.8 82.9h0M474.8 79h0M474.4 79.7h0M470.1 75.1h0M472 83.6h0M476.2 83.7h0M475.9 74.3h0M474 86.5h0M480 73.1h0M490.9 82.7h0M479.8 77.4h0M472.7 79.5h0M478.8 87.5h0M479.5 83.7h0M472.3 81.2h0M484.2 93.7h0M481.3 88.7h0M479.3 90.6h0M475.1 83.2h0M483.9 99.1h0M483 96.5h0M489.5 88.9h0M474.9 94.3h0M478.6 94.3h0M486.2 95.8h0M472.3 104.6h0M475.9 90.6h0M486.5 91.8h0M477.5 98.2h0M486.6 98.1h0M479.9 101.8h0M483.1 110.2h0M477.1 103.7h0M471.9 95.7h0M475.3 94.2h0M477.9 107.9h0M486.6 102h0M480.1 104.8h0M478.1 102.4h0M476.4 111.8h0M474.9 107.6h0M476.9 115.6h0M478.6 113.1h0M475 111h0M475 112.7h0M475.3 116.8h0M481.4 112.5h0M478.3 114.5h0M475.3 113.5h0M475.2 113.3h0M465.8 119.6h0M472.7 120.6h0M464.7 107.3h0M477.3 119.5h0M481.1 117.2h0M483.8 120.7h0M463.5 114.8h0M469.5 117.9h0M470.6 119.7h0M475.9 113.4h0M469.6 126.5h0M480.5 127.3h0M470.3 125.6h0M473.1 114.5h0M468.2 124h0M467.6 118.3h0M462.9 123.8h0M469 120.4h0M476.6 120.9h0M458.1 133.3h0M470.4 125.8h0M465.3 135.1h0M461.9 130.3h0M467 126.1h0M469.3 125.1h0M463.6 131.5h0M459 123.9h0M463.2 125h0M457.5 128.4h0M461.5 137.7h0M450.3 134.5h0M445.1 135h0M456.9 127.8h0M462.3 138.2h0M455.3 133.2h0M445.2 136h0M446.6 130.2h0M445.1 130.5h0M451.2 137.4h0M443.4 137.1h0M447.5 132.5h0M437.4 140.2h0M453.1 139.2h0M446.6 142.8h0M444.6 142.6h0M443.6 138.2h0M442.9 140.2h0M442.9 137.2h0M442.4 137.5h0M435.9 138.8h0M432.7 140.7h0M442.6 138.3h0M444.7 142.4h0M437.9 141.9h0M441.2 137.8h0M438.1 138.4h0M432.4 140.3h0M426.8 136.2h0M430.7 137.5h0M426.3 144h0M432.7 140.6h0M426.2 139.8h0M427.8 149.2h0M423.3 139.4h0M425.1 140.7h0M421.6 146.2h0M426.8 147.6h0M421.8 136.3h0M423.6 145.4h0M423.2 141.2h0M420.5 143.5h0M424.5 138.9h0M414.3 149.6h0M413.2 141.8h0M415.5 148.3h0M420 149h0M424.4 141.4h0M414.7 147.9h0M419.3 146.5h0M416.4 144h0M415.5 150.1h0M412.7 153.4h0M413.9 145.5h0M412.9 147.2h0M408.2 145.7h0M411.6 148.6h0M408.2 146.1h0M405.5 150.9h0M400.8 153.1h0M397.4 156.3h0M399.9 145.7h0M402.9 144.9h0M410.7 151.3h0M407.1 152h0M407.5 153.9h0M404 153.3h0M391.5 148.7h0M400.8 152.5h0M389.1 147.5h0M404 156.8h0M398.7 157h0M395.6 152.9h0M392.3 155.9h0M398.9 161.9h0M387 159.3h0M391 159.9h0M389 155.4h0M379.9 155.9h0M392.6 164.6h0M393.5 162.1h0M390.2 151.6h0M386.6 157.6h0M387.7 155.8h0M386 156.7h0M376.8 155.3h0M383.1 165.5h0M378 157.5h0M386.1 162.5h0M378.1 160h0M377.9 158h0M384.5 159.8h0M378.8 162.4h0M384.7 158h0M369.3 159.5h0M377.2 152.3h0M365.3 168.3h0M376.5 161.3h0M374.2 162.6h0M377.7 165.2h0M376.2 158.4h0M370.2 168.5h0M364.1 163.6h0M371.9 160.7h0M364.5 166.7h0M367.4 163.1h0M372.4 163.7h0M369.6 167.5h0M366 162.9h0M362.2 174.6h0M367.4 162.6h0M370.2 164.5h0M373.5 173.5h0M365.4 165.7h0M362.6 166.1h0M362.8 175h0M366.8 164.7h0M358.3 168.9h0M365.2 174.3h0M365.7 174.1h0M359.2 179.1h0M367 174.1h0M360 172.7h0M359.3 181.7h0M356.4 183.6h0M354.8 176.9h0M356.8 178.4h0M371.3 174.8h0M365.5 172.9h0M361.2 189.6h0M360.9 173.6h0M356.7 180.8h0M353.5 187.7h0M361.9 178.7h0M361.1 184.6h0M350 189.4h0M360.6 184.4h0M351.3 184.9h0M359.1 181.2h0M359 187.5h0M357.5 190.4h0M357.5 193.7h0M363.1 189.8h0M354.1 191h0M351.4 188.4h0M361.1 199.3h0M352.4 194.3h0M362.2 190.7h0M358.6 204.8h0M361.7 192.2h0M356.8 202.8h0M350.6 193.9h0M357 193.9h0M350.5 198.9h0M362.3 202.1h0M358.7 204.3h0M355.4 201.2h0M357.5 201.8h0M353 201h0M355.4 207h0M356.3 211.2h0M354.6 193.1h0M363.1 207.7h0M362 211.8h0M366.1 205.2h0M357.8 208.9h0M356.8 204.4h0M367.5 209.6h0M366.7 206.4h0M362.3 212.7h0M358.8 214.2h0M366.8 204.5h0M367.9 211.3h0M366.5 203.9h0M362.9 212.1h0M374.6 214.6h0M368.9 216.7h0M371.5 214h0M370.4 216.8h0M371.8 218.6h0M367 215.8h0M367.5 213.8h0M372 216.7h0M376.9 209.2h0M376.3 213.2h0M382.3 219.5h0M377.2 219.4h0M377 216.7h0M374.2 221.9h0M371.2 216.3h0M375.5 219.9h0M376.8 223h0M371.2 214.9h0M380.9 222.9h0M382.6 227h0M372.9 218h0M378.1 218.8h0M379 221.1h0M384 222h0M387 222.7h0M386.7 226.5h0M395.9 221.8h0M378.9 217.1h0M391.2 216h0M385.6 226.8h0M391.4 224.2h0M386.5 223.7h0M396 219.6h0M395.1 224h0M390.5 222.8h0M387.6 230.3h0M390.9 224.8h0M385.7 223.4h0M397.5 223.8h0M399.1 225.4h0M398.8 228.6h0M408.6 228h0M404.8 225h0M401.6 221.6h0M403.8 229.6h0M403.4 229.6h0M404.8 222.3h0M403.2 228.6h0M408.7 219.5h0M406.1 221.9h0M412.2 222.1h0M400.1 230.3h0M403.3 225.6h0M400 234h0M401.8 222.9h0M404.4 226.2h0M403.2 225.5h0M412.1 235.1h0M413.1 225.2h0M404.4 222.6h0M412.1 224.6h0M417.9 227.4h0M412.2 225.6h0M408.9 228h0M421.1 226h0M415 227.2h0M413.6 228.9h0M414.3 229.3h0M422.4 228.4h0M418.5 223.4h0M427.2 217.3h0M412.2 225.5h0M421.4 217.9h0M420.4 226.5h0M427.2 219h0M432.3 225.3h0M424.2 227.4h0M431.2 222.9h0M436.2 224.4h0M423.2 220.6h0M431.6 222.9h0M430.7 224.9h0M433 220h0M436.4 224.2h0M429.2 220.8h0M436 225.4h0M429.5 214.6h0M436.2 219.5h0M429.9 224.2h0M443.9 220.5h0M438.6 218.9h0M437 217.9h0M439.3 220.2h0M440 214.6h0M442.9 214.2h0M444.9 219.2h0M446.2 223.7h0M442.8 217.3h0M447.6 216.8h0M445.1 223.2h0M445.6 211.7h0M441.3 216.1h0M441.4 209.4h0M435.8 213.1h0M447.3 219h0M450.2 205.6h0M447.7 213.8h0M446.2 216.3h0M443.2 206.3h0M451.1 211.7h0M455.4 207.7h0M449.5 205.1h0M455 212.9h0M443.8 210.1h0M459.1 209.3h0M452.1 211.2h0M460.9 208.5h0M453.2 209.8h0M463 201.9h0M449.9 204.3h0M463.6 205.1h0M466.2 205.9h0M462.1 206.4h0M462.6 202.3h0M469.8 200h0M466.4 204.9h0M470.1 200.3h0M462.1 197.2h0M468.4 204.8h0M472.8 202.7h0M470.1 194.3h0M468.5 194.3h0M475.3 195.2h0M472.8 192h0M480.8 195.7h0M477.4 200.8h0M473.6 192.8h0M475.3 191h0M468.1 195.1h0M475.3 187.2h0M474.9 188h0M465.3 189.4h0M473.7 188.6h0M471.8 192.8h0M478.9 189.3h0M463.8 186.3h0M463.3 181.1h0M466.8 188.6h0M480 188.2h0M479.6 191.8h0M463.3 183.2h0" class="yd"/>
<path d="M346.6 108.7h0M363.3 102.9h0M366.9 107.1h0M365.8 97.2h0M364.3 83.3h0M354.1 98.3h0M354.5 97.1h0M366.4 94.2h0M370.8 98.2h0M380.9 82h0M373.7 84.2h0M375.6 82.2h0M381.2 96.7h0M376.1 76h0M363.4 81.5h0M382.8 87.9h0M376.3 80.6h0M378.8 75h0M388.8 77.7h0M401.3 77.6h0M397.9 71.7h0M406.2 72.3h0M398.6 73.2h0M400.6 62.1h0M402.2 71.4h0M411.7 63.7h0M396.3 66.4h0M411.3 61.1h0M417.5 63.4h0M413.4 55.4h0M421 68.4h0M423.6 59.5h0M412.3 58h0M412.9 61h0M424.6 62h0M430.2 71h0M435.6 66.9h0M438.3 66.3h0M447.3 60.4h0M447.8 61.7h0M451.5 67.7h0M438.6 66.5h0M453.1 70.7h0M443.5 69.5h0M453 70.7h0M457.3 71.4h0M460.2 70.4h0M466.9 71h0M464.9 70.3h0M453.7 72.9h0M460.4 76.6h0M467.2 82.8h0M469.4 78.9h0M466.7 68.2h0M469.4 84.2h0M471.7 70.7h0M469.8 71.6h0M470 83h0M476.1 85.8h0M474.4 84h0M478.4 85.7h0M477.8 87.9h0M472.5 87.8h0M477.9 88h0M475.4 96.2h0M480.2 101.5h0M472.8 107.3h0M479.5 102.6h0M474 105.4h0M485.3 109.8h0M471.8 100.8h0M486 110.8h0M480.7 110.9h0M471.7 116.2h0M464.7 123.4h0M463.8 123.2h0M462 124.2h0M467.6 122.6h0M467.7 128h0M460.7 122.9h0M461.9 123.7h0M451.4 129.1h0M469.8 127h0M457.8 132.3h0M458.8 134.1h0M453.9 129.4h0M449.9 128.8h0M449.2 133.7h0M453.9 133.2h0M441.1 134.1h0M445.3 135.7h0M443.6 131.6h0M444.8 136.3h0M446.7 133.9h0M438.4 142.4h0M440.2 132.1h0M440.5 134.7h0M430.5 136.4h0M421.8 139.8h0M426.9 139.6h0M418.6 138.6h0M418.8 146.7h0M412.3 153.9h0M412.3 150.1h0M414.5 150.4h0M410 140.9h0M408.4 151.9h0M402.6 146.1h0M404.2 147.5h0M396.4 149.9h0M393.2 146.3h0M402.1 148.5h0M395.1 154.1h0M395.3 156.4h0M397.3 161.9h0M386.8 155.4h0M386.1 163.9h0M374.5 153h0M394.2 163.2h0M387.4 154.2h0M385.9 160.2h0M379.9 157.8h0M375 163.8h0M375.4 160.4h0M366.7 163h0M372.9 159.7h0M366.7 168.4h0M368.9 162.5h0M368.6 166.1h0M368.1 167.5h0M362.3 177.4h0M363 185h0M363.8 178h0M355.9 184.3h0M358.3 186.1h0M351 189.2h0M363 189.1h0M359.8 195.5h0M352.5 193.7h0M361.9 193.4h0M362.6 202h0M356.6 207.1h0M359.7 212.6h0M363.6 211.8h0M357 210.7h0M367.6 203.5h0M367.4 218.9h0M374.3 212.5h0M382.3 216.6h0M379.8 222h0M378.7 223.6h0M388.2 215.2h0M389.8 217.6h0M394.6 225h0M396.9 228.5h0M395 223.6h0M395.6 228.8h0M404 225.5h0M397.5 226h0M400 217.8h0M420.1 224.3h0M412.9 230.1h0M420.1 228.4h0M415.3 224.9h0M414.2 226.7h0M413.1 226.6h0M422.6 223.3h0M424.8 227.1h0M438.1 219.7h0M441.9 229.8h0M440 218.5h0M432.4 224.4h0M437.8 215h0M450.1 217.1h0M461.9 216.4h0M444.8 214.5h0M450.3 216h0M448.7 216.2h0M445.8 212.2h0M459.5 212h0M468.7 211.4h0M457 207.9h0M460.1 206.5h0M464 215.8h0M464 209.3h0M467.6 205.8h0M468.1 201h0M460.6 205.3h0M453.9 205.3h0M466.6 199.6h0M463.4 200.4h0M469.3 203.5h0M465.6 210.1h0M466.4 195.7h0M471.7 197.8h0M480.9 191h0" class="yd2"/>
<polyline points="355.8,105 356.4,104.4 357,103.7 357.7,102.9 358.5,101.9 359.3,100.9 360.2,99.9 361.2,98.7 362.2,97.6 363.2,96.4 364.3,95.1 365.4,93.9 366.6,92.7 367.7,91.5 368.9,90.4 370,89.3 371.1,88.3 372.3,87.3 373.5,86.3 374.8,85.3 376.1,84.3 377.4,83.3 378.8,82.3 380.2,81.3 381.6,80.3 383,79.4 384.3,78.5 385.7,77.6 387,76.7 388.3,75.9 389.6,75.1 390.8,74.4 391.9,73.7 392.9,73.1 394,72.6 394.9,72.1 395.8,71.6 396.7,71.2 397.6,70.8 398.4,70.5 399.3,70.1 400.1,69.8 400.9,69.5 401.7,69.3 402.6,69 403.4,68.7 404.3,68.5 405.2,68.2 406.2,67.9 407.2,67.6 408.2,67.3 409.2,67 410.2,66.8 411.3,66.5 412.3,66.2 413.4,66 414.5,65.7 415.5,65.5 416.6,65.3 417.7,65.1 418.9,64.9 420,64.8 421.1,64.6 422.3,64.5 423.5,64.4 424.7,64.3 425.9,64.2 427.2,64.2 428.5,64.1 429.8,64.1 431.1,64.1 432.5,64.1 433.8,64.1 435.1,64.2 436.5,64.2 437.8,64.3 439.1,64.4 440.4,64.5 441.6,64.7 442.8,64.8 444,65 445.2,65.2 446.3,65.4 447.4,65.7 448.5,66 449.6,66.3 450.7,66.6 451.7,66.9 452.7,67.2 453.7,67.6 454.8,68 455.7,68.4 456.7,68.8 457.7,69.2 458.6,69.7 459.6,70.1 460.5,70.6 461.5,71.1 462.4,71.6 463.3,72.1 464.2,72.7 465.2,73.3 466.1,73.9 467,74.5 467.8,75.1 468.7,75.7 469.5,76.4 470.3,77 471.1,77.6 471.8,78.2 472.5,78.8 473.2,79.4 473.8,80 474.3,80.6 474.8,81.1 475.3,81.7 475.7,82.2 476,82.8 476.4,83.3 476.7,83.9 477,84.4 477.3,84.9 477.5,85.5 477.7,86 478,86.5 478.2,87.1 478.4,87.6 478.7,88.2 478.9,88.7 479.1,89.2 479.4,89.8 479.6,90.4 479.8,90.9 480,91.5 480.2,92 480.3,92.6 480.5,93.2 480.7,93.7 480.8,94.3 480.9,94.8 481.1,95.4 481.2,95.9 481.3,96.4 481.4,96.9 481.5,97.4 481.5,97.9 481.6,98.3 481.7,98.8 481.7,99.2 481.7,99.7 481.8,100.1 481.8,100.5 481.8,100.9 481.8,101.3 481.8,101.7 481.7,102.1 481.7,102.5 481.7,103 481.6,103.4 481.5,103.8 481.5,104.3 481.4,104.8 481.3,105.2 481.2,105.7 481.1,106.2 480.9,106.7 480.8,107.2 480.7,107.7 480.5,108.2 480.3,108.7 480.2,109.2 480,109.7 479.8,110.2 479.6,110.7 479.4,111.2 479.1,111.7 478.9,112.2 478.6,112.7 478.4,113.2 478.1,113.7 477.9,114.2 477.6,114.7 477.3,115.2 477,115.7 476.7,116.2 476.4,116.6 476,117.1 475.7,117.6 475.3,118.1 475,118.6 474.6,119.1 474.2,119.5 473.8,120 473.3,120.5 472.9,120.9 472.4,121.4 471.9,121.9 471.4,122.3 470.9,122.8 470.4,123.2 469.9,123.7 469.3,124.1 468.8,124.6 468.2,125 467.6,125.4 467,125.8 466.4,126.2 465.8,126.6 465.2,127 464.5,127.4 463.9,127.7 463.2,128 462.5,128.3 461.9,128.6 461.2,128.9 460.5,129.2 459.8,129.4 459,129.7 458.3,130 457.5,130.3 456.7,130.6 455.8,130.9 455,131.2 454,131.5 453.1,131.9 452.1,132.3 451.1,132.7 450,133.1 448.9,133.6 447.8,134 446.6,134.5 445.5,135 444.3,135.5 443,136 441.8,136.4 440.6,136.9 439.4,137.4 438.2,137.9 437,138.3 435.8,138.8 434.6,139.2 433.4,139.6 432.2,140 431,140.4 429.8,140.9 428.5,141.3 427.3,141.7 426,142.1 424.8,142.4 423.6,142.8 422.4,143.2 421.2,143.6 420.1,144 419,144.3 418,144.7 417,145 416.1,145.4 415.2,145.7 414.5,146.1 413.8,146.4 413.2,146.7 412.6,146.9 412.1,147.2 411.6,147.5 411.1,147.8 410.7,148 410.2,148.3 409.6,148.6 409.1,148.9 408.5,149.3 407.8,149.6 407,150 406.2,150.4 405.3,150.8 404.3,151.3 403.2,151.8 402.1,152.3 400.9,152.8 399.7,153.3 398.5,153.9 397.2,154.4 396,155 394.7,155.6 393.5,156.1 392.2,156.7 391,157.2 389.9,157.7 388.7,158.3 387.7,158.8 386.7,159.2 385.7,159.7 384.7,160.1 383.7,160.6 382.7,161 381.8,161.5 380.9,161.9 380,162.3 379.1,162.7 378.2,163.2 377.4,163.6 376.5,164.1 375.7,164.5 374.9,165 374.1,165.5 373.3,166 372.5,166.5 371.8,167.1 371.1,167.6 370.4,168.2 369.6,168.7 369,169.3 368.3,169.9 367.6,170.5 367,171.1 366.4,171.7 365.8,172.3 365.2,172.9 364.6,173.5 364.1,174.2 363.5,174.8 363,175.4 362.5,176 362,176.6 361.5,177.3 361,177.9 360.6,178.5 360.1,179.2 359.7,179.8 359.3,180.5 358.9,181.1 358.6,181.8 358.2,182.4 357.9,183.1 357.6,183.8 357.3,184.4 357.1,185.1 356.8,185.8 356.6,186.5 356.4,187.2 356.2,187.9 356.1,188.7 355.9,189.4 355.8,190.1 355.7,190.9 355.6,191.6 355.6,192.4 355.5,193.1 355.5,193.9 355.5,194.6 355.6,195.4 355.6,196.1 355.7,196.8 355.8,197.5 356,198.2 356.1,198.9 356.3,199.6 356.6,200.3 356.8,200.9 357.1,201.6 357.4,202.3 357.7,203 358,203.6 358.4,204.3 358.8,204.9 359.2,205.6 359.6,206.2 360,206.8 360.5,207.4 361,208 361.5,208.6 362,209.2 362.5,209.7 363.1,210.3 363.6,210.8 364.2,211.3 364.8,211.9 365.5,212.4 366.1,212.9 366.8,213.4 367.5,213.9 368.2,214.4 368.9,214.9 369.6,215.3 370.4,215.8 371.1,216.2 371.9,216.7 372.7,217.1 373.6,217.6 374.4,218 375.3,218.4 376.2,218.9 377.1,219.3 378,219.7 378.9,220.1 379.9,220.4 380.8,220.8 381.8,221.2 382.8,221.5 383.7,221.9 384.7,222.2 385.7,222.5 386.6,222.8 387.7,223.1 388.7,223.4 389.7,223.7 390.8,223.9 391.9,224.2 393,224.4 394,224.7 395.1,224.9 396.2,225.1 397.2,225.3 398.3,225.4 399.3,225.6 400.2,225.8 401.2,225.9 402.1,226 402.9,226.1 403.7,226.2 404.5,226.2 405.2,226.2 405.9,226.3 406.6,226.3 407.3,226.3 408,226.2 408.6,226.2 409.3,226.2 409.9,226.1 410.6,226 411.3,226 412.1,225.9 412.8,225.9 413.6,225.8 414.4,225.7 415.3,225.7 416.1,225.6 417,225.6 417.8,225.5 418.7,225.4 419.6,225.3 420.5,225.2 421.4,225.1 422.3,225 423.2,224.9 424.2,224.8 425.1,224.6 426.1,224.4 427.1,224.2 428,224 429,223.8 430,223.5 431.1,223.3 432.1,223 433.2,222.7 434.3,222.4 435.3,222.1 436.4,221.7 437.5,221.4 438.6,221 439.7,220.6 440.7,220.2 441.8,219.8 442.8,219.3 443.8,218.8 444.8,218.3 445.8,217.7 446.7,217.1 447.7,216.5 448.7,215.8 449.6,215.1 450.5,214.3 451.5,213.6 452.4,212.8 453.3,212.1 454.1,211.3 455,210.5 455.8,209.8 456.7,209 457.5,208.3 458.3,207.6 459,207 459.8,206.4 460.5,205.8 461.1,205.3 461.8,204.8 462.4,204.3 463,203.8 463.6,203.3 464.2,202.8 464.7,202.3 465.3,201.8 465.9,201.3 466.5,200.8 467,200.3 467.6,199.7 468.3,199.1 468.9,198.5 469.6,197.8 470.3,197.1 471.1,196.3 471.9,195.5 472.7,194.6 473.5,193.7 474.3,192.8 475.1,192 475.9,191.1 476.7,190.3 477.4,189.5 478,188.7 478.7,188.1 479.2,187.4 479.7,186.9 480.1,186.5" class="gt"/>
<polyline points="355.2,105.3 356.9,104.5 358.5,102.7 359.4,101.8 361,100.9 363,98.6 364,98 366.2,96.8 366.9,96.1 367.8,93.7 369,93.1 370.2,92.7 372.3,90.8 373.7,88.8 374.5,87.4 376.4,86.4 375.8,85.1 378.8,83.8 379.4,82.8 380.4,80.9 381.4,79.1 382.5,76.6 383.4,76 384.4,74.7 386,72.2 387.4,73 389,71.4 389.9,71 392.9,72.2 394.9,70.7 396,69.6 398,69.1 400,69.8 401.3,69.6 403.2,68.6 404.7,67.2 406.9,66.6 408.6,66.4 409.5,65.6 412.3,66 414.1,65 415.2,64.1 417.6,64.8 419.5,64.6 421.7,64.2 423.1,64.8 424.3,64.2 426.7,63.3 427.6,63.2 430.6,63.8 431.5,63.4 433.8,64.6 436.7,64.2 437.5,64.5 439.2,64.2 440.6,64.3 443.1,65.1 444.8,66.3 446.1,66.5 448,66.1 451,66.8 451.7,67.7 454.1,68.3 455.9,68.3 457.2,69.2 458.9,70.3 460,71.4 462.1,72.3 463.7,72.4 464.9,73 465.9,74.7 468.4,75.2 470.1,76.8 470.7,78.4 472.9,79.6 474.2,81.2 475.3,82.6 477.3,83.7 477.9,84 479,86.2 480.3,88.3 479.8,88.9 479.5,91.2 480.3,93.7 481,94.9 480.1,96.6 482.1,99 481.8,100.4 481.1,103.1 481.9,103.7 479.8,107.3 478.8,108.2 478.4,108.4 476.7,111 476.6,112.6 475.2,113.9 474,114.5 474.1,117.9 472.8,117.6 470.8,118.8 468.9,121.8 467.2,121.4 466.8,123.6 464.6,124.1 463.1,124 461.8,125.9 460.5,127.4 457.8,128 456.9,129.6 455.8,130.3 454,131.3 452.7,131.7 450.6,132.3 448.6,134.5 447.6,134.7 445.8,134.1 443.8,136.5 442.6,136.3 441,136.9 439.5,137.6 437.9,138 434.7,138.9 433.7,138.2 431.5,139.6 429.6,140.4 427.8,140.7 426.6,141.1 425.5,141.2 422.3,141.8 421.3,142 420.5,143.8 417.7,143.8 416.3,144.9 414.5,146.9 413,147.3 411.6,148.4 409.4,149.3 409.2,148.9 406.7,149.9 404.7,150.5 402.6,151.4 400.9,152 399,151.7 398.5,153.3 395.6,153.2 394.8,154.1 392.9,155 391.8,155.6 389.4,156 387.2,158.1 385.3,157.6 383,157.3 382,158.7 380.4,158.6 378.3,160 376.4,160.3 375.1,160.7 373.1,162.3 372.5,163.9 370.5,164.6 370,166.3 367.4,166.7 366.3,168.6 365.1,170.2 364.6,170.4 362.8,173 362.4,174.2 361,175.6 360.4,177.5 360.1,178.5 359.3,180.8 357.5,182.9 357,184.7 356.9,186.2 356.5,187.9 355.1,189.5 356,191.2 355,194 356.6,194.5 355.5,196.1 356.9,198.1 356.4,199.5 357.7,201.6 357.7,203.2 359.7,204.5 360.4,206.9 361.8,208.4 362.1,209.9 363.6,210.9 365.6,212.3 366.8,213.5 367.9,213.5 370.3,215 371.5,215.4 374.1,217.2 374.5,218.4 376.5,218.5 378,220.2 380.5,219.7 382.1,221.4 383.1,221.9 384.1,221.6 386.7,222 389,222.8 390,222.7 391.8,223.4 393.1,224 396.1,224.7 396.5,224.2 399.3,225.5 402.6,225.4 403.3,224.9 404.9,225.3 406.7,226.5 408.3,227 410.6,226.4 412.9,225.9 414.6,225.8 415.9,226.2 417.4,226.4 419.5,226.2 421.6,224.4 422.9,224.7 424.3,224.7 426.1,224.1 428.8,223 429.8,222.1 431.2,221.8 433,221.7 435.4,221 436.4,219.1 438.7,219.5 440,216.7 441.3,216.3 442.4,215.1 444.9,214.8 444.4,213.9 447.2,212.8 450.4,211.1 450.8,211.7 452.8,210.4 454.1,209.8 455,208.6 456.6,207.8 459.3,207 460.5,206.2 462.7,205.3 463.7,203.8 465.4,202.7 467.2,201.7 468.3,200.7 469,199.2 470,196 471.6,195.9 470.7,194.7 471.2,191.9 472.2,190.1 471.4,188.8 470.9,187.4 469.8,185" class="bk bkr"/>
<path d="M467.4 183.9h0M464.3 184.4h0M462.2 185.4h0M460.6 187h0M458 187.5h0M456 188.5h0" class="bkd"/>
<path d="M294.5 244.4v-2.2M294.5 3.6v2.2M319.3 244.4v-2.2M319.3 3.6v2.2M344.2 244.4v-2.2M344.2 3.6v2.2M369 244.4v-2.2M369 3.6v2.2M393.8 244.4v-2.2M393.8 3.6v2.2M418.7 244.4v-2.2M418.7 3.6v2.2M443.5 244.4v-2.2M443.5 3.6v2.2M468.3 244.4v-2.2M468.3 3.6v2.2M493.2 244.4v-2.2M493.2 3.6v2.2M518 244.4v-2.2M518 3.6v2.2M294.5 226.7h2.2M518.0 226.7h-2.2M294.5 186.4h2.2M518.0 186.4h-2.2M294.5 146.2h2.2M518.0 146.2h-2.2M294.5 105.9h2.2M518.0 105.9h-2.2M294.5 65.7h2.2M518.0 65.7h-2.2M294.5 25.4h2.2M518.0 25.4h-2.2" class="tk"/>
<rect x="294.5" y="3.6" width="223.5" height="240.8" class="box"/>
<text x="294.5" y="255.2" class="tl" text-anchor="middle">1300</text>
<text x="319.3" y="255.2" class="tl" text-anchor="middle">1280</text>
<text x="344.2" y="255.2" class="tl" text-anchor="middle">1260</text>
<text x="369" y="255.2" class="tl" text-anchor="middle">1240</text>
<text x="393.8" y="255.2" class="tl" text-anchor="middle">1220</text>
<text x="418.7" y="255.2" class="tl" text-anchor="middle">1200</text>
<text x="443.5" y="255.2" class="tl" text-anchor="middle">1180</text>
<text x="468.3" y="255.2" class="tl" text-anchor="middle">1160</text>
<text x="493.2" y="255.2" class="tl" text-anchor="middle">1140</text>
<text x="518" y="255.2" class="tl" text-anchor="middle">1120</text>
<text x="520.3" y="229.3" class="tl">1200</text>
<text x="520.3" y="189" class="tl">1250</text>
<text x="520.3" y="148.8" class="tl">1300</text>
<text x="520.3" y="108.5" class="tl">1350</text>
<text x="520.3" y="68.3" class="tl">1400</text>
<text x="520.3" y="28" class="tl">1450</text>
<text x="405.9" y="266.2" class="al" text-anchor="middle">World Y axis</text>
<text transform="translate(545.4 124) rotate(-90)" class="al" text-anchor="middle">World X axis</text>
<rect x="428.5" y="7.3" width="85.5" height="34.8" class="lg"/>
<line x1="430.4" y1="12.2" x2="442.3" y2="12.2" stroke="#5a5ae6" stroke-width="0.6" stroke-dasharray="none"/>
<circle cx="436.4" cy="12.2" r="1.3" fill="none" stroke="#4848e0" stroke-width="0.7"/>
<text x="443.4" y="14.7" class="lt" style="font-size:6.55px">Vehicle GT Position</text>
<line x1="430.4" y1="20.5" x2="442.3" y2="20.5" stroke="#e46a6a" stroke-width="0.6" stroke-dasharray="1.5 1"/>
<path d="M436.4 18.8l1.6 2.8h-3.2z" fill="#e88" stroke="#e05050" stroke-width="0.6"/>
<text x="443.4" y="23" class="lt" style="font-size:6.55px">Noisy Vehicle Position</text>
<line x1="430.4" y1="29.1" x2="442.3" y2="29.1" stroke="#f0d080" stroke-width="0.6" stroke-dasharray="1.5 1"/>
<circle cx="436.4" cy="29.1" r="1.3" fill="#f2d27a"/>
<text x="443.4" y="31.6" class="lt" style="font-size:6.55px">PF Estimation</text>
<line x1="430.4" y1="37.8" x2="442.3" y2="37.8" stroke="#333" stroke-width="0.6" stroke-dasharray="1.5 1"/>
<circle cx="436.4" cy="37.8" r="0.9" fill="#111"/>
<text x="443.4" y="40.3" class="lt" style="font-size:6.55px">PAUKF Estimation</text>
<text x="133.4" y="282.3" class="cap" text-anchor="middle">(a)</text>
<text x="414.3" y="282.3" class="cap" text-anchor="middle">(b)</text>
</svg>
</body></html>
